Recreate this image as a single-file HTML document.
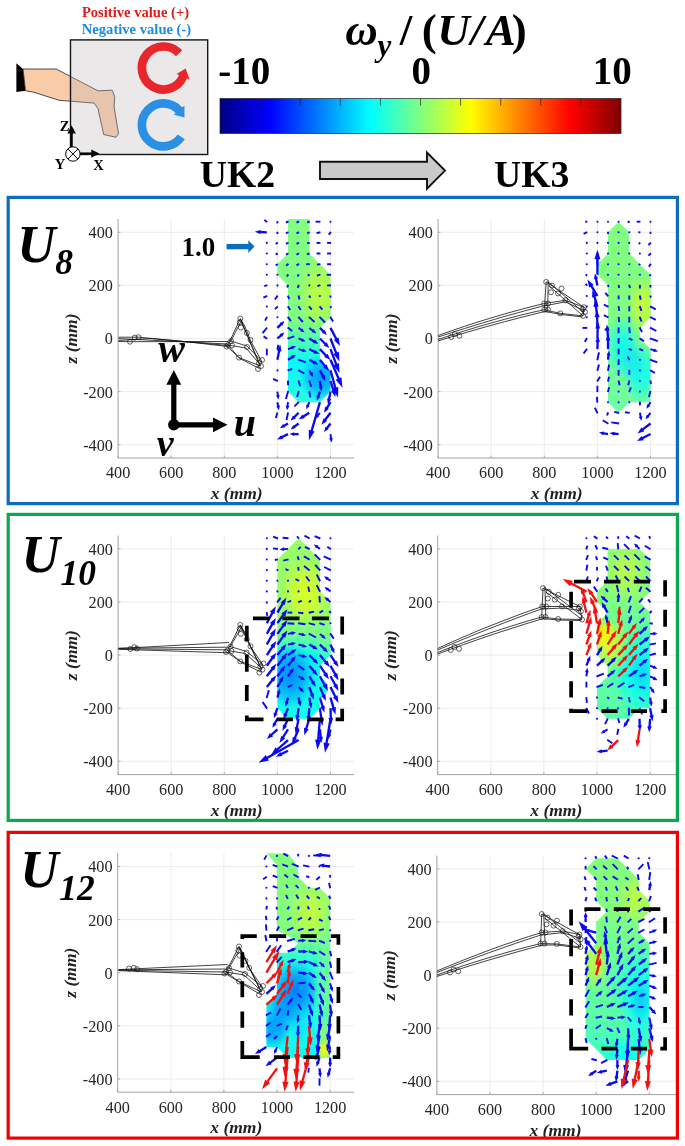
<!DOCTYPE html>
<html lang="en"><head><meta charset="utf-8"><title>Vorticity and velocity fields UK2 to UK3</title><style>html,body{margin:0;padding:0;background:#fff}body{width:685px;height:1146px;overflow:hidden}</style></head><body><svg width="685" height="1146" viewBox="0 0 685 1146" font-family="'Liberation Serif', 'Times New Roman', serif" style="display:block"><rect width="685" height="1146" fill="#fff"/><text x="135.5" y="16.5" font-size="14.6" font-weight="bold" fill="#e01b1b" text-anchor="middle">Positive value (+)</text>
<text x="136.5" y="34" font-size="14.6" font-weight="bold" fill="#1b8be6" text-anchor="middle">Negative value (-)</text>
<polygon points="16.4,63.3 23,69 25.5,90.8 16.4,92.1" fill="#000"/>
<polygon points="23,69 56.2,69 98,90.8 112.2,90.2 114.7,96.5 114.1,107 118.5,133.5 116,137.3 103.7,134.5 98,108.8 94.2,103.1 59.1,100.3 33.5,92.1 25.5,90.8" fill="#f9cba7" stroke="#222" stroke-width="0.8" stroke-linejoin="round"/>
<rect x="70.5" y="39.9" width="137.2" height="114.6" fill="#beb9bc" fill-opacity="0.32" stroke="#161616" stroke-width="1.4"/>
<path d="M179.1,53.3 A21.5,21.5 0 1 0 183.3,76.1" fill="none" stroke="#e8262c" stroke-width="8.7"/>
<polygon points="189.5,79.4 176.6,74.1 185.7,68.4" fill="#e8262c"/>
<path d="M181.2,136.9 A21.5,21.5 0 1 1 179.6,110.8" fill="none" stroke="#2b8fe3" stroke-width="8.7"/>
<polygon points="184.4,105.6 173.8,114.8 184.5,117.6" fill="#2b8fe3"/>
<g stroke="#000" stroke-width="2.3" fill="none"><line x1="71.6" y1="148" x2="71.6" y2="132.5"/><line x1="80" y1="153.6" x2="92.5" y2="153.6"/></g>
<polygon points="71.6,125.6 67.3,133.6 75.9,133.6" fill="#000"/><polygon points="99.3,153.6 91.3,149.4 91.3,157.8" fill="#000"/>
<circle cx="72.9" cy="154" r="7.2" fill="#fff" stroke="#000" stroke-width="1.0"/>
<path d="M67.9,149 L77.9,159 M77.9,149 L67.9,159" stroke="#000" stroke-width="1.0"/>
<text x="64.6" y="131" font-size="14.6" font-weight="bold" text-anchor="middle">Z</text>
<text x="60" y="169" font-size="14.6" font-weight="bold" text-anchor="middle">Y</text>
<text x="98.4" y="169.6" font-size="14.6" font-weight="bold" text-anchor="middle">X</text>
<defs><linearGradient id="jet" x1="0" x2="1" y1="0" y2="0"><stop offset="0" stop-color="#000083"/><stop offset="0.125" stop-color="#0000ff"/><stop offset="0.25" stop-color="#0080ff"/><stop offset="0.375" stop-color="#00ffff"/><stop offset="0.5" stop-color="#80ff80"/><stop offset="0.625" stop-color="#ffff00"/><stop offset="0.75" stop-color="#ff8000"/><stop offset="0.875" stop-color="#ff0000"/><stop offset="1" stop-color="#800000"/></linearGradient></defs>
<rect x="220" y="98.5" width="401" height="35" fill="url(#jet)" stroke="#222" stroke-width="0.7"/>
<line x1="260.1" y1="98.5" x2="260.1" y2="105.5" stroke="#222" stroke-width="0.7"/>
<line x1="300.2" y1="98.5" x2="300.2" y2="105.5" stroke="#222" stroke-width="0.7"/>
<line x1="340.3" y1="98.5" x2="340.3" y2="105.5" stroke="#222" stroke-width="0.7"/>
<line x1="380.4" y1="98.5" x2="380.4" y2="105.5" stroke="#222" stroke-width="0.7"/>
<line x1="420.5" y1="98.5" x2="420.5" y2="105.5" stroke="#222" stroke-width="0.7"/>
<line x1="460.6" y1="98.5" x2="460.6" y2="105.5" stroke="#222" stroke-width="0.7"/>
<line x1="500.7" y1="98.5" x2="500.7" y2="105.5" stroke="#222" stroke-width="0.7"/>
<line x1="540.8" y1="98.5" x2="540.8" y2="105.5" stroke="#222" stroke-width="0.7"/>
<line x1="580.9" y1="98.5" x2="580.9" y2="105.5" stroke="#222" stroke-width="0.7"/>
<text x="218.3" y="84.1" font-size="39" font-weight="bold">-10</text>
<text x="421.3" y="84.1" font-size="39" font-weight="bold" text-anchor="middle">0</text>
<text x="612.3" y="84.1" font-size="39" font-weight="bold" text-anchor="middle">10</text>
<text transform="translate(345.30,44.8) scale(1,1)" font-size="45" font-weight="bold" font-style="italic">ω</text>
<text transform="translate(377.40,56.4) scale(1,1)" font-size="31" font-weight="bold" font-style="italic">y</text>
<text transform="translate(399.65,44.8) scale(1,1)" font-size="45" font-weight="bold">/</text>
<text transform="translate(421.70,44.8) scale(1,1)" font-size="45" font-weight="bold">(</text>
<text transform="translate(437.30,44.8) scale(1,1)" font-size="45" font-weight="bold" font-style="italic">U</text>
<text transform="translate(470.70,44.8) scale(1,1)" font-size="45" font-weight="bold" font-style="italic">/</text>
<text transform="translate(485.65,44.8) scale(1,1)" font-size="45" font-weight="bold" font-style="italic">A</text>
<text transform="translate(511.65,44.8) scale(1,1)" font-size="45" font-weight="bold">)</text>
<text x="199.8" y="186.8" font-size="37.7" font-weight="bold">UK2</text>
<text x="494" y="186.8" font-size="37.7" font-weight="bold">UK3</text>
<polygon points="320,161.8 427,161.8 427,152.6 445,170.6 427,188.6 427,179 320,179" fill="#cbcaca" stroke="#111" stroke-width="1.9" stroke-linejoin="miter"/>
<g id="P1L"><path d="M171.2,219.0V458.0M224.3,219.0V458.0M277.4,219.0V458.0M330.5,219.0V458.0M118.1,232.3H354.0M118.1,285.4H354.0M118.1,338.5H354.0M118.1,391.6H354.0M118.1,444.7H354.0" stroke="#e7e7e7" stroke-width="0.8" fill="none"/><defs><clipPath id="cP1L"><polygon points="288.0,219.0 309.3,219.0 309.3,253.5 330.5,274.8 330.5,317.3 319.9,327.9 319.9,359.7 330.5,370.4 330.5,391.6 319.9,402.2 298.6,402.2 288.0,391.6 288.0,285.4 277.4,274.8 277.4,264.2 288.0,253.5"/></clipPath><linearGradient id="cP1Lb" gradientUnits="userSpaceOnUse" x1="0" x2="0" y1="219.0" y2="458.0"><stop offset="0.000" stop-color="#80ff80"/><stop offset="0.422" stop-color="#80ff80"/><stop offset="0.522" stop-color="#48ffb8"/><stop offset="0.600" stop-color="#08f8f8"/><stop offset="0.778" stop-color="#28ffe0"/></linearGradient><radialGradient id="cP1Lr0"><stop offset="0" stop-color="#ffff00" stop-opacity="0.48"/><stop offset="0.45" stop-color="#ffff00" stop-opacity="0.35"/><stop offset="1" stop-color="#ffff00" stop-opacity="0"/></radialGradient><radialGradient id="cP1Lr1"><stop offset="0" stop-color="#0084ff" stop-opacity="0.8"/><stop offset="0.45" stop-color="#0084ff" stop-opacity="0.58"/><stop offset="1" stop-color="#0084ff" stop-opacity="0"/></radialGradient><radialGradient id="cP1Lr2"><stop offset="0" stop-color="#60ffb0" stop-opacity="0.7"/><stop offset="0.45" stop-color="#60ffb0" stop-opacity="0.50"/><stop offset="1" stop-color="#60ffb0" stop-opacity="0"/></radialGradient></defs><g clip-path="url(#cP1L)"><rect x="250.8" y="219.0" width="106.2" height="239.0" fill="url(#cP1Lb)"/><ellipse cx="319.3" cy="293.4" rx="22.6" ry="37.2" fill="url(#cP1Lr0)"/><ellipse cx="321.2" cy="378.3" rx="21.8" ry="23.4" fill="url(#cP1Lr1)"/><ellipse cx="288.0" cy="402.2" rx="15.9" ry="11.9" fill="url(#cP1Lr2)"/></g><path d="M118.1,219.0V458.0H354.0" stroke="#a2a2a2" stroke-width="1" fill="none"/><path d="M118.1,458.0v-2.4M171.2,458.0v-2.4M224.3,458.0v-2.4M277.4,458.0v-2.4M330.5,458.0v-2.4M118.1,232.3h2.4M118.1,285.4h2.4M118.1,338.5h2.4M118.1,391.6h2.4M118.1,444.7h2.4" stroke="#a2a2a2" stroke-width="0.9" fill="none"/><g font-size="16.2" fill="#262626"><text x="118.1" y="478.3" text-anchor="middle">400</text><text x="171.2" y="478.3" text-anchor="middle">600</text><text x="224.3" y="478.3" text-anchor="middle">800</text><text x="277.4" y="478.3" text-anchor="middle">1000</text><text x="330.5" y="478.3" text-anchor="middle">1200</text><text x="112.9" y="238.2" text-anchor="end">400</text><text x="112.9" y="291.3" text-anchor="end">200</text><text x="112.9" y="344.4" text-anchor="end">0</text><text x="112.9" y="397.5" text-anchor="end">-200</text><text x="112.9" y="450.6" text-anchor="end">-400</text></g><text x="236.7" y="499.2" font-size="17.5" font-weight="bold" font-style="italic" text-anchor="middle" fill="#222">x (mm)</text><text transform="translate(76.6,338.5) rotate(-90)" font-size="17.5" font-weight="bold" font-style="italic" text-anchor="middle" fill="#222">z (mm)</text><path d="M118.5,337.2L138.5,337.2L180.0,341.0L228.0,346.5M118.5,341.5L130.0,341.7L228.0,341.5M118.5,338.6L228.0,344.0M118.5,340.5L150.0,338.5L228.0,345.5M228.0,345.0L240.3,318.6L260.5,366.0L239.0,357.6L228.0,345.0M230.5,342.0L241.1,321.1L259.0,363.5M240.3,318.6L244.8,326.1L250.3,340.1L262.0,362.0M229.0,340.5L247.0,346.0L261.0,360.5M228.0,345.0L246.0,348.0L260.0,364.5M226.5,346.0L240.0,358.6L259.5,368.5" stroke="#111" stroke-width="0.8" fill="none" stroke-linejoin="round"/><g stroke="#111" stroke-width="0.65" fill="none"><circle cx="130.0" cy="341.7" r="2.5"/><circle cx="134.8" cy="337.7" r="2.5"/><circle cx="138.5" cy="337.2" r="2.5"/><circle cx="240.3" cy="318.6" r="2.5"/><circle cx="239.7" cy="322.4" r="2.5"/><circle cx="240.9" cy="327.6" r="2.5"/><circle cx="246.8" cy="333.0" r="2.5"/><circle cx="250.5" cy="340.0" r="2.5"/><circle cx="247.0" cy="347.0" r="2.5"/><circle cx="228.0" cy="345.0" r="2.5"/><circle cx="231.0" cy="341.0" r="2.5"/><circle cx="232.0" cy="345.5" r="2.5"/><circle cx="226.5" cy="346.5" r="2.5"/><circle cx="239.0" cy="357.6" r="2.5"/><circle cx="259.0" cy="363.0" r="2.5"/><circle cx="261.0" cy="366.0" r="2.5"/><circle cx="258.0" cy="369.0" r="2.5"/><circle cx="262.0" cy="360.0" r="2.5"/></g><g fill="none"><path d="M267.2,222.0L264.3,220.0" stroke="#0808f4" stroke-width="1.9"/><path d="M266.8,232.3L259.3,232.0" stroke="#0808f4" stroke-width="2.3"/><path d="M254.8,231.8L260.4,229.9L260.2,234.1z" fill="#0808f4"/><circle cx="266.8" cy="242.9" r="1.05" fill="#0808f4"/><circle cx="266.8" cy="253.5" r="1.05" fill="#0808f4"/><circle cx="266.8" cy="264.2" r="1.05" fill="#0808f4"/><circle cx="266.8" cy="274.8" r="1.05" fill="#0808f4"/><path d="M267.3,285.2L264.3,286.2" stroke="#0808f4" stroke-width="1.9"/><path d="M267.2,295.8L263.4,297.7" stroke="#0808f4" stroke-width="1.9"/><circle cx="266.8" cy="306.6" r="1.05" fill="#0808f4"/><path d="M267.0,316.8L265.1,320.7" stroke="#0808f4" stroke-width="1.9"/><path d="M267.1,327.5L262.6,333.1" stroke="#0808f4" stroke-width="1.9"/><path d="M267.2,338.8L263.6,336.4" stroke="#0808f4" stroke-width="1.9"/><path d="M266.8,348.6L266.8,355.4" stroke="#0808f4" stroke-width="1.9"/><path d="M277.4,221.2L277.4,223.4" stroke="#0808f4" stroke-width="1.9"/><path d="M277.4,231.8L277.4,234.0" stroke="#0808f4" stroke-width="1.9"/><path d="M277.8,242.7L275.7,243.8" stroke="#0808f4" stroke-width="1.9"/><path d="M277.8,253.3L275.7,254.4" stroke="#0808f4" stroke-width="1.9"/><path d="M277.8,263.9L275.7,265.4" stroke="#0808f4" stroke-width="1.9"/><circle cx="277.4" cy="274.8" r="1.05" fill="#0808f4"/><circle cx="277.4" cy="285.4" r="1.05" fill="#0808f4"/><path d="M277.7,295.6L274.8,299.5" stroke="#0808f4" stroke-width="1.9"/><path d="M277.8,306.3L274.9,309.2" stroke="#0808f4" stroke-width="1.9"/><circle cx="277.4" cy="317.3" r="1.05" fill="#0808f4"/><path d="M277.4,327.9L281.7,323.6" stroke="#0808f4" stroke-width="2.3"/><path d="M284.4,320.9L282.4,325.7L279.6,322.9z" fill="#0808f4"/><path d="M277.4,338.5L281.6,334.9" stroke="#0808f4" stroke-width="2.3"/><path d="M284.4,332.5L282.1,337.0L279.6,334.1z" fill="#0808f4"/><path d="M277.3,349.6L278.5,344.8" stroke="#0808f4" stroke-width="1.9"/><path d="M277.4,359.7L279.3,350.1" stroke="#0808f4" stroke-width="2.3"/><path d="M280.4,344.7L281.4,351.6L276.8,350.6z" fill="#0808f4"/><circle cx="277.4" cy="370.4" r="1.05" fill="#0808f4"/><path d="M277.8,381.2L273.1,378.8" stroke="#0808f4" stroke-width="1.9"/><path d="M277.4,391.6L278.0,396.3" stroke="#0808f4" stroke-width="1.95"/><path d="M278.4,399.6L276.0,395.5L279.7,395.1z" fill="#0808f4"/><path d="M277.4,402.2L278.3,406.9" stroke="#0808f4" stroke-width="1.95"/><path d="M278.9,410.2L276.3,406.3L279.9,405.6z" fill="#0808f4"/><path d="M277.5,412.4L275.8,418.1" stroke="#0808f4" stroke-width="1.9"/><path d="M288.5,221.5L285.9,222.5" stroke="#0808f4" stroke-width="1.9"/><path d="M288.5,232.1L285.9,233.3" stroke="#0808f4" stroke-width="1.9"/><path d="M288.5,242.7L285.9,243.8" stroke="#0808f4" stroke-width="1.9"/><path d="M288.4,253.3L285.9,254.8" stroke="#0808f4" stroke-width="1.9"/><path d="M288.4,263.8L286.3,265.8" stroke="#0808f4" stroke-width="1.9"/><path d="M288.3,274.4L286.8,276.5" stroke="#0808f4" stroke-width="1.9"/><path d="M288.2,284.9L287.2,287.5" stroke="#0808f4" stroke-width="1.9"/><path d="M287.8,295.6L289.3,299.0" stroke="#0808f4" stroke-width="1.9"/><path d="M287.8,306.2L290.2,310.1" stroke="#0808f4" stroke-width="1.9"/><path d="M287.7,316.9L291.0,321.1" stroke="#0808f4" stroke-width="1.9"/><path d="M287.6,327.6L292.3,331.1" stroke="#0808f4" stroke-width="1.9"/><path d="M287.5,338.7L294.3,336.4" stroke="#0808f4" stroke-width="1.9"/><path d="M288.0,349.1L292.8,347.3" stroke="#0808f4" stroke-width="1.95"/><path d="M296.0,346.1L292.5,349.4L291.2,345.9z" fill="#0808f4"/><path d="M288.0,359.7L292.9,356.7" stroke="#0808f4" stroke-width="2.3"/><path d="M296.0,354.7L293.0,358.9L291.0,355.6z" fill="#0808f4"/><path d="M287.6,370.5L292.3,368.8" stroke="#0808f4" stroke-width="1.9"/><path d="M288.0,380.5L288.0,385.3" stroke="#0808f4" stroke-width="1.9"/><path d="M288.2,391.1L285.9,398.9" stroke="#0808f4" stroke-width="1.9"/><path d="M288.0,402.2L287.4,406.9" stroke="#0808f4" stroke-width="1.95"/><path d="M287.0,410.2L285.7,405.7L289.4,406.2z" fill="#0808f4"/><path d="M288.1,412.4L286.5,420.1" stroke="#0808f4" stroke-width="1.9"/><path d="M288.0,423.5L283.2,426.2" stroke="#0808f4" stroke-width="2.3"/><path d="M280.0,428.0L283.1,424.0L285.0,427.4z" fill="#0808f4"/><path d="M288.0,434.1L281.1,437.5" stroke="#0808f4" stroke-width="2.3"/><path d="M277.0,439.6L281.1,435.2L283.0,439.0z" fill="#0808f4"/><path d="M299.1,221.5L296.5,222.5" stroke="#0808f4" stroke-width="1.9"/><path d="M299.1,232.1L296.5,233.3" stroke="#0808f4" stroke-width="1.9"/><path d="M299.1,242.7L296.5,243.8" stroke="#0808f4" stroke-width="1.9"/><path d="M299.1,253.3L296.5,254.8" stroke="#0808f4" stroke-width="1.9"/><path d="M299.1,263.9L296.5,265.4" stroke="#0808f4" stroke-width="1.9"/><path d="M298.9,274.4L297.4,276.5" stroke="#0808f4" stroke-width="1.9"/><path d="M298.8,284.9L297.8,287.9" stroke="#0808f4" stroke-width="1.9"/><path d="M298.5,295.5L299.5,299.4" stroke="#0808f4" stroke-width="1.9"/><path d="M298.4,306.2L300.8,310.1" stroke="#0808f4" stroke-width="1.9"/><path d="M298.3,316.9L302.8,322.0" stroke="#0808f4" stroke-width="1.9"/><path d="M298.6,327.9L302.1,330.5" stroke="#0808f4" stroke-width="1.95"/><path d="M304.6,332.4L300.2,331.3L302.4,328.4z" fill="#0808f4"/><path d="M298.6,338.5L302.7,340.2" stroke="#0808f4" stroke-width="1.95"/><path d="M305.6,341.5L301.1,341.5L302.5,338.2z" fill="#0808f4"/><path d="M298.6,349.1L303.4,350.6" stroke="#0808f4" stroke-width="1.95"/><path d="M306.6,351.6L301.9,352.1L303.0,348.5z" fill="#0808f4"/><path d="M298.2,359.6L305.9,362.3" stroke="#0808f4" stroke-width="1.9"/><path d="M298.2,370.1L304.4,373.5" stroke="#0808f4" stroke-width="1.9"/><path d="M298.5,380.5L300.2,386.3" stroke="#0808f4" stroke-width="1.9"/><path d="M298.8,391.1L297.1,396.9" stroke="#0808f4" stroke-width="1.9"/><path d="M299.0,401.9L294.4,406.4" stroke="#0808f4" stroke-width="1.9"/><path d="M298.6,412.8L293.7,417.8" stroke="#0808f4" stroke-width="2.3"/><path d="M290.6,420.8L292.9,415.6L295.8,418.6z" fill="#0808f4"/><path d="M298.6,423.5L293.8,427.1" stroke="#0808f4" stroke-width="2.3"/><path d="M290.6,429.5L293.4,424.9L295.7,428.1z" fill="#0808f4"/><path d="M298.6,434.1L293.2,434.1" stroke="#0808f4" stroke-width="2.3"/><path d="M289.6,434.1L294.2,432.2L294.2,436.0z" fill="#0808f4"/><path d="M309.7,221.5L307.2,222.5" stroke="#0808f4" stroke-width="1.9"/><path d="M309.7,232.1L307.2,233.3" stroke="#0808f4" stroke-width="1.9"/><path d="M309.8,242.8L307.2,243.3" stroke="#0808f4" stroke-width="1.9"/><path d="M309.7,253.4L306.8,254.4" stroke="#0808f4" stroke-width="1.9"/><path d="M309.8,264.2L306.3,264.2" stroke="#0808f4" stroke-width="1.9"/><path d="M309.7,274.6L307.6,275.6" stroke="#0808f4" stroke-width="1.9"/><circle cx="309.3" cy="285.4" r="1.05" fill="#0808f4"/><path d="M309.0,295.6L310.5,297.7" stroke="#0808f4" stroke-width="1.9"/><path d="M308.9,306.3L311.8,309.6" stroke="#0808f4" stroke-width="1.9"/><path d="M308.9,316.9L314.5,322.0" stroke="#0808f4" stroke-width="1.9"/><path d="M309.3,327.9L313.5,331.2" stroke="#0808f4" stroke-width="1.95"/><path d="M316.3,333.4L311.5,332.1L313.8,329.1z" fill="#0808f4"/><path d="M309.3,338.5L314.8,341.9" stroke="#0808f4" stroke-width="2.3"/><path d="M318.3,344.0L312.9,343.1L315.0,339.6z" fill="#0808f4"/><path d="M309.3,349.1L315.5,352.2" stroke="#0808f4" stroke-width="2.3"/><path d="M319.3,354.1L313.6,353.6L315.5,349.9z" fill="#0808f4"/><path d="M309.3,359.7L314.8,362.8" stroke="#0808f4" stroke-width="2.3"/><path d="M318.3,364.7L312.9,364.1L314.9,360.6z" fill="#0808f4"/><path d="M309.3,370.4L311.6,374.1" stroke="#0808f4" stroke-width="1.95"/><path d="M313.3,376.9L309.5,374.2L312.6,372.3z" fill="#0808f4"/><path d="M309.1,380.5L311.4,386.8" stroke="#0808f4" stroke-width="1.9"/><path d="M309.2,391.1L310.3,397.4" stroke="#0808f4" stroke-width="1.9"/><path d="M309.3,402.2L307.5,406.3" stroke="#0808f4" stroke-width="1.95"/><path d="M306.3,409.2L306.2,404.7L309.6,406.1z" fill="#0808f4"/><path d="M309.3,412.8L302.7,416.9" stroke="#0808f4" stroke-width="2.3"/><path d="M298.8,419.3L302.4,414.6L304.6,418.2z" fill="#0808f4"/><path d="M320.4,221.7L315.6,221.7" stroke="#0808f4" stroke-width="1.9"/><path d="M320.4,232.2L316.5,233.1" stroke="#0808f4" stroke-width="1.9"/><path d="M320.4,242.9L316.5,242.9" stroke="#0808f4" stroke-width="1.9"/><path d="M320.4,253.5L316.5,253.5" stroke="#0808f4" stroke-width="1.9"/><path d="M320.4,264.1L316.9,264.6" stroke="#0808f4" stroke-width="1.9"/><path d="M320.4,274.6L316.9,275.6" stroke="#0808f4" stroke-width="1.9"/><path d="M320.4,285.2L317.4,286.2" stroke="#0808f4" stroke-width="1.9"/><circle cx="319.9" cy="296.0" r="1.05" fill="#0808f4"/><path d="M319.6,306.3L322.4,309.6" stroke="#0808f4" stroke-width="1.9"/><path d="M319.5,316.9L325.1,322.5" stroke="#0808f4" stroke-width="1.9"/><path d="M319.9,327.9L324.1,332.1" stroke="#0808f4" stroke-width="2.3"/><path d="M326.9,334.9L322.0,332.8L324.8,330.0z" fill="#0808f4"/><path d="M319.9,338.5L325.9,344.5" stroke="#0808f4" stroke-width="2.3"/><path d="M329.4,348.0L323.6,345.4L326.7,342.2z" fill="#0808f4"/><path d="M319.9,349.1L326.6,356.2" stroke="#0808f4" stroke-width="2.3"/><path d="M330.4,360.1L324.2,357.0L327.6,353.8z" fill="#0808f4"/><path d="M319.9,359.7L325.6,366.7" stroke="#0808f4" stroke-width="2.3"/><path d="M328.9,370.7L323.2,367.4L326.7,364.5z" fill="#0808f4"/><path d="M319.9,370.4L323.3,376.9" stroke="#0808f4" stroke-width="2.3"/><path d="M325.4,380.9L321.0,377.0L324.7,375.1z" fill="#0808f4"/><path d="M319.9,381.0L320.8,387.4" stroke="#0808f4" stroke-width="2.3"/><path d="M321.4,391.5L318.7,386.7L322.7,386.2z" fill="#0808f4"/><path d="M319.9,391.6L318.1,397.0" stroke="#0808f4" stroke-width="2.3"/><path d="M316.9,400.6L316.5,395.5L320.2,396.7z" fill="#0808f4"/><path d="M319.9,402.2L311.4,431.6" stroke="#0808f4" stroke-width="2.3"/><path d="M308.9,440.2L308.7,429.8L314.6,431.5z" fill="#0808f4"/><path d="M319.9,412.8L317.0,416.3" stroke="#0808f4" stroke-width="1.95"/><path d="M314.9,418.8L316.2,414.4L319.0,416.8z" fill="#0808f4"/><circle cx="330.5" cy="221.7" r="1.05" fill="#0808f4"/><path d="M330.8,231.9L328.8,234.8" stroke="#0808f4" stroke-width="1.9"/><path d="M331.0,242.9L327.1,242.9" stroke="#0808f4" stroke-width="1.9"/><path d="M331.0,253.5L327.1,253.5" stroke="#0808f4" stroke-width="1.9"/><path d="M331.0,264.2L327.1,264.2" stroke="#0808f4" stroke-width="1.9"/><path d="M331.0,274.8L326.7,274.8" stroke="#0808f4" stroke-width="1.9"/><path d="M331.0,285.4L327.1,285.4" stroke="#0808f4" stroke-width="1.9"/><path d="M330.5,295.5L330.5,297.7" stroke="#0808f4" stroke-width="1.9"/><path d="M330.2,306.2L331.4,307.9" stroke="#0808f4" stroke-width="1.9"/><path d="M330.2,316.8L333.1,321.5" stroke="#0808f4" stroke-width="1.9"/><path d="M330.5,327.9L336.7,339.7" stroke="#0808f4" stroke-width="2.3"/><path d="M340.0,345.9L333.9,340.0L338.6,337.6z" fill="#0808f4"/><path d="M330.5,338.5L336.5,353.8" stroke="#0808f4" stroke-width="2.3"/><path d="M339.5,361.5L333.4,353.9L338.9,351.8z" fill="#0808f4"/><path d="M330.5,349.1L336.5,365.1" stroke="#0808f4" stroke-width="2.3"/><path d="M339.5,373.1L333.3,365.2L339.0,363.1z" fill="#0808f4"/><path d="M330.5,359.7L339.0,379.5" stroke="#0808f4" stroke-width="2.3"/><path d="M342.5,387.7L335.7,379.8L341.4,377.3z" fill="#0808f4"/><path d="M330.5,370.4L335.6,388.7" stroke="#0808f4" stroke-width="2.3"/><path d="M338.0,397.4L332.3,388.6L338.3,386.9z" fill="#0808f4"/><path d="M330.5,381.0L333.7,391.3" stroke="#0808f4" stroke-width="2.3"/><path d="M335.5,397.0L331.1,391.1L335.7,389.6z" fill="#0808f4"/><path d="M330.5,391.6L328.9,399.8" stroke="#0808f4" stroke-width="2.3"/><path d="M328.0,404.6L327.0,398.4L331.3,399.2z" fill="#0808f4"/><path d="M330.5,402.2L326.4,408.8" stroke="#0808f4" stroke-width="2.3"/><path d="M324.0,412.7L325.1,406.8L328.8,409.1z" fill="#0808f4"/><path d="M330.5,412.8L324.7,420.5" stroke="#0808f4" stroke-width="2.3"/><path d="M321.5,424.8L323.5,418.3L327.2,421.1z" fill="#0808f4"/><path d="M330.5,423.5L326.5,428.7" stroke="#0808f4" stroke-width="2.3"/><path d="M324.0,432.0L325.5,426.7L328.7,429.1z" fill="#0808f4"/><path d="M330.5,434.1L331.1,439.1" stroke="#0808f4" stroke-width="1.95"/><path d="M331.5,442.6L329.1,438.4L332.8,437.9z" fill="#0808f4"/></g></g>
<g id="P1R"><path d="M491.2,219.0V458.0M544.3,219.0V458.0M597.4,219.0V458.0M650.5,219.0V458.0M438.1,232.3H676.0M438.1,285.4H676.0M438.1,338.5H676.0M438.1,391.6H676.0M438.1,444.7H676.0" stroke="#e7e7e7" stroke-width="0.8" fill="none"/><defs><clipPath id="cP1R"><polygon points="618.6,221.7 629.3,232.3 629.3,253.5 650.5,274.8 650.5,317.3 639.9,327.9 639.9,338.5 650.5,349.1 650.5,402.2 629.3,402.2 618.6,412.8 608.0,402.2 608.0,285.4 597.4,274.8 597.4,264.2 608.0,253.5 608.0,232.3"/></clipPath><linearGradient id="cP1Rb" gradientUnits="userSpaceOnUse" x1="0" x2="0" y1="219.0" y2="458.0"><stop offset="0.000" stop-color="#80ff80"/><stop offset="0.367" stop-color="#80ff80"/><stop offset="0.778" stop-color="#70ffa0"/></linearGradient><radialGradient id="cP1Rr0"><stop offset="0" stop-color="#ffff00" stop-opacity="0.55"/><stop offset="0.45" stop-color="#ffff00" stop-opacity="0.40"/><stop offset="1" stop-color="#ffff00" stop-opacity="0"/></radialGradient><radialGradient id="cP1Rr1"><stop offset="0" stop-color="#00ffff" stop-opacity="0.85"/><stop offset="0.45" stop-color="#00ffff" stop-opacity="0.61"/><stop offset="1" stop-color="#00ffff" stop-opacity="0"/></radialGradient><radialGradient id="cP1Rr2"><stop offset="0" stop-color="#00ffff" stop-opacity="0.85"/><stop offset="0.45" stop-color="#00ffff" stop-opacity="0.61"/><stop offset="1" stop-color="#00ffff" stop-opacity="0"/></radialGradient><radialGradient id="cP1Rr3"><stop offset="0" stop-color="#00d8ff" stop-opacity="0.5"/><stop offset="0.45" stop-color="#00d8ff" stop-opacity="0.36"/><stop offset="1" stop-color="#00d8ff" stop-opacity="0"/></radialGradient></defs><g clip-path="url(#cP1R)"><rect x="570.9" y="219.0" width="106.2" height="239.0" fill="url(#cP1Rb)"/><ellipse cx="643.1" cy="305.3" rx="16.5" ry="30.5" fill="url(#cP1Rr0)"/><ellipse cx="622.6" cy="346.5" rx="16.5" ry="31.9" fill="url(#cP1Rr1)"/><ellipse cx="641.2" cy="373.0" rx="18.6" ry="30.5" fill="url(#cP1Rr2)"/><ellipse cx="630.6" cy="359.7" rx="15.9" ry="23.9" fill="url(#cP1Rr3)"/></g><path d="M438.1,219.0V458.0H676.0" stroke="#a2a2a2" stroke-width="1" fill="none"/><path d="M438.1,458.0v-2.4M491.2,458.0v-2.4M544.3,458.0v-2.4M597.4,458.0v-2.4M650.5,458.0v-2.4M438.1,232.3h2.4M438.1,285.4h2.4M438.1,338.5h2.4M438.1,391.6h2.4M438.1,444.7h2.4" stroke="#a2a2a2" stroke-width="0.9" fill="none"/><g font-size="16.2" fill="#262626"><text x="438.1" y="478.3" text-anchor="middle">400</text><text x="491.2" y="478.3" text-anchor="middle">600</text><text x="544.3" y="478.3" text-anchor="middle">800</text><text x="597.4" y="478.3" text-anchor="middle">1000</text><text x="650.5" y="478.3" text-anchor="middle">1200</text><text x="432.9" y="238.2" text-anchor="end">400</text><text x="432.9" y="291.3" text-anchor="end">200</text><text x="432.9" y="344.4" text-anchor="end">0</text><text x="432.9" y="397.5" text-anchor="end">-200</text><text x="432.9" y="450.6" text-anchor="end">-400</text></g><text x="556.7" y="499.2" font-size="17.5" font-weight="bold" font-style="italic" text-anchor="middle" fill="#222">x (mm)</text><text transform="translate(396.6,338.5) rotate(-90)" font-size="17.5" font-weight="bold" font-style="italic" text-anchor="middle" fill="#222">z (mm)</text><path d="M438.1,335.5L451.4,330.8L464.6,326.3L477.9,322.0L491.2,317.9L504.4,314.0L517.7,310.3L530.9,306.8L544.2,303.5M438.1,337.0L451.4,332.7L464.6,328.5L477.9,324.4L491.2,320.4L504.4,316.5L517.7,312.8L530.9,309.2L544.2,305.7M438.1,339.5L451.4,335.1L464.6,330.9L477.9,326.8L491.2,323.0L504.4,319.4L517.7,315.9L530.9,312.7L544.2,309.7M438.1,341.0L451.4,336.9L464.8,332.9L478.1,329.0L491.4,325.3L504.7,321.7L518.1,318.2L531.4,314.8L544.7,311.5M546.2,281.9L544.2,310.7M548.2,282.4L547.7,310.7M546.2,281.9L583.9,307.2M547.2,280.9L584.0,312.9M549.2,285.9L583.0,315.9M544.2,303.5L565.3,300.3L583.9,307.2M544.2,306.0L565.3,301.8L584.9,311.2M544.2,309.7L560.3,313.4L583.0,315.9M544.2,311.2L560.3,314.4L582.0,316.9M583.9,307.2L583.0,315.9" stroke="#111" stroke-width="0.8" fill="none" stroke-linejoin="round"/><g stroke="#111" stroke-width="0.65" fill="none"><circle cx="451.1" cy="337.0" r="2.5"/><circle cx="454.9" cy="334.0" r="2.5"/><circle cx="459.4" cy="335.8" r="2.5"/><circle cx="546.2" cy="281.9" r="2.5"/><circle cx="552.0" cy="285.6" r="2.5"/><circle cx="561.5" cy="288.6" r="2.5"/><circle cx="551.0" cy="292.3" r="2.5"/><circle cx="558.0" cy="293.5" r="2.5"/><circle cx="544.2" cy="303.5" r="2.5"/><circle cx="548.0" cy="303.5" r="2.5"/><circle cx="544.2" cy="309.7" r="2.5"/><circle cx="548.0" cy="309.7" r="2.5"/><circle cx="560.3" cy="313.4" r="2.5"/><circle cx="565.3" cy="300.3" r="2.5"/><circle cx="583.9" cy="307.2" r="2.5"/><circle cx="585.0" cy="312.0" r="2.5"/><circle cx="583.0" cy="315.9" r="2.5"/><circle cx="582.9" cy="309.2" r="2.5"/></g><g fill="none"><path d="M587.3,221.7L585.2,221.7" stroke="#0808f4" stroke-width="1.9"/><path d="M587.2,232.1L583.6,233.9" stroke="#0808f4" stroke-width="1.9"/><circle cx="586.8" cy="242.9" r="1.05" fill="#0808f4"/><circle cx="586.8" cy="253.5" r="1.05" fill="#0808f4"/><circle cx="586.8" cy="264.2" r="1.05" fill="#0808f4"/><path d="M587.1,274.4L585.7,275.9" stroke="#0808f4" stroke-width="1.9"/><path d="M587.1,285.8L585.7,283.8" stroke="#0808f4" stroke-width="1.9"/><circle cx="586.8" cy="296.0" r="1.05" fill="#0808f4"/><circle cx="586.8" cy="306.6" r="1.05" fill="#0808f4"/><circle cx="586.8" cy="317.3" r="1.05" fill="#0808f4"/><path d="M587.3,327.9L582.5,327.9" stroke="#0808f4" stroke-width="1.9"/><path d="M587.1,338.1L584.7,341.7" stroke="#0808f4" stroke-width="1.9"/><path d="M587.1,348.7L583.6,353.4" stroke="#0808f4" stroke-width="1.9"/><circle cx="597.4" cy="221.7" r="1.05" fill="#0808f4"/><circle cx="597.4" cy="232.3" r="1.05" fill="#0808f4"/><circle cx="597.4" cy="242.9" r="1.05" fill="#0808f4"/><circle cx="597.4" cy="253.5" r="1.05" fill="#0808f4"/><path d="M597.4,264.7L597.3,259.5" stroke="#0808f4" stroke-width="1.9"/><path d="M597.4,274.8L597.4,258.2" stroke="#0808f4" stroke-width="2.3"/><path d="M597.4,249.8L600.4,259.2L594.4,259.2z" fill="#0808f4"/><path d="M597.4,285.4L595.8,277.9" stroke="#0808f4" stroke-width="2.3"/><path d="M594.9,273.4L598.1,278.4L594.0,279.3z" fill="#0808f4"/><path d="M597.4,296.0L590.9,285.2" stroke="#0808f4" stroke-width="2.3"/><path d="M587.4,279.5L593.6,284.8L589.2,287.4z" fill="#0808f4"/><path d="M597.4,306.6L594.2,295.8" stroke="#0808f4" stroke-width="2.3"/><path d="M592.4,289.9L596.8,296.1L592.1,297.5z" fill="#0808f4"/><path d="M597.4,317.3L595.8,305.6" stroke="#0808f4" stroke-width="2.3"/><path d="M594.9,299.3L598.4,306.2L593.4,306.9z" fill="#0808f4"/><path d="M597.4,327.9L597.1,316.2" stroke="#0808f4" stroke-width="2.3"/><path d="M596.9,309.9L599.6,317.1L594.6,317.2z" fill="#0808f4"/><path d="M597.4,338.5L597.7,327.5" stroke="#0808f4" stroke-width="2.3"/><path d="M597.9,321.5L600.1,328.6L595.3,328.4z" fill="#0808f4"/><path d="M597.4,349.1L597.7,340.9" stroke="#0808f4" stroke-width="2.3"/><path d="M597.9,336.1L599.9,342.0L595.5,341.8z" fill="#0808f4"/><path d="M597.3,360.2L599.0,352.4" stroke="#0808f4" stroke-width="1.9"/><path d="M597.3,370.8L599.0,364.6" stroke="#0808f4" stroke-width="1.9"/><path d="M597.1,381.4L600.1,376.7" stroke="#0808f4" stroke-width="1.9"/><path d="M597.4,392.1L597.4,385.8" stroke="#0808f4" stroke-width="1.9"/><path d="M597.4,402.7L596.9,396.9" stroke="#0808f4" stroke-width="1.9"/><path d="M597.6,413.3L594.8,407.6" stroke="#0808f4" stroke-width="1.9"/><circle cx="608.0" cy="221.7" r="1.05" fill="#0808f4"/><path d="M608.0,231.8L608.0,233.9" stroke="#0808f4" stroke-width="1.9"/><circle cx="608.0" cy="242.9" r="1.05" fill="#0808f4"/><circle cx="608.0" cy="253.5" r="1.05" fill="#0808f4"/><circle cx="608.0" cy="264.2" r="1.05" fill="#0808f4"/><circle cx="608.0" cy="274.8" r="1.05" fill="#0808f4"/><path d="M607.9,284.9L608.6,287.0" stroke="#0808f4" stroke-width="1.9"/><path d="M608.3,296.4L605.3,292.8" stroke="#0808f4" stroke-width="1.9"/><path d="M608.5,306.9L603.8,304.5" stroke="#0808f4" stroke-width="1.9"/><path d="M608.5,317.5L603.8,315.1" stroke="#0808f4" stroke-width="1.9"/><path d="M608.4,327.6L604.8,330.0" stroke="#0808f4" stroke-width="1.9"/><path d="M608.0,338.5L607.4,329.6" stroke="#0808f4" stroke-width="2.3"/><path d="M607.0,324.5L609.7,330.4L605.2,330.8z" fill="#0808f4"/><path d="M608.0,349.1L608.0,339.5" stroke="#0808f4" stroke-width="2.3"/><path d="M608.0,334.1L610.3,340.5L605.7,340.5z" fill="#0808f4"/><path d="M608.0,359.7L608.6,354.3" stroke="#0808f4" stroke-width="2.3"/><path d="M609.0,350.7L610.4,355.5L606.6,355.1z" fill="#0808f4"/><path d="M607.9,370.9L609.1,364.6" stroke="#0808f4" stroke-width="1.9"/><path d="M607.9,381.5L609.1,376.7" stroke="#0808f4" stroke-width="1.9"/><path d="M607.9,392.1L609.1,387.3" stroke="#0808f4" stroke-width="1.9"/><circle cx="608.0" cy="402.2" r="1.05" fill="#0808f4"/><path d="M608.2,412.4L607.0,415.5" stroke="#0808f4" stroke-width="1.9"/><path d="M608.4,423.7L602.8,420.3" stroke="#0808f4" stroke-width="1.9"/><path d="M608.0,434.1L602.6,433.2" stroke="#0808f4" stroke-width="2.3"/><path d="M599.0,432.6L603.9,431.4L603.3,435.2z" fill="#0808f4"/><circle cx="618.6" cy="221.7" r="1.05" fill="#0808f4"/><circle cx="618.6" cy="232.3" r="1.05" fill="#0808f4"/><circle cx="618.6" cy="242.9" r="1.05" fill="#0808f4"/><circle cx="618.6" cy="253.5" r="1.05" fill="#0808f4"/><circle cx="618.6" cy="264.2" r="1.05" fill="#0808f4"/><circle cx="618.6" cy="274.8" r="1.05" fill="#0808f4"/><path d="M618.6,284.9L619.0,288.0" stroke="#0808f4" stroke-width="1.9"/><path d="M618.6,295.5L618.6,299.2" stroke="#0808f4" stroke-width="1.9"/><path d="M618.6,306.1L619.2,310.9" stroke="#0808f4" stroke-width="1.9"/><path d="M618.6,316.8L619.2,322.1" stroke="#0808f4" stroke-width="1.9"/><path d="M618.6,327.4L618.6,333.2" stroke="#0808f4" stroke-width="1.9"/><path d="M618.6,338.0L618.6,343.8" stroke="#0808f4" stroke-width="1.9"/><path d="M618.6,348.6L618.6,354.4" stroke="#0808f4" stroke-width="1.9"/><path d="M618.6,359.2L618.6,365.0" stroke="#0808f4" stroke-width="1.9"/><path d="M618.6,369.9L618.6,375.7" stroke="#0808f4" stroke-width="1.9"/><path d="M618.5,380.5L619.7,385.3" stroke="#0808f4" stroke-width="1.9"/><circle cx="618.6" cy="391.6" r="1.05" fill="#0808f4"/><circle cx="618.6" cy="402.2" r="1.05" fill="#0808f4"/><path d="M619.1,413.0L614.3,411.8" stroke="#0808f4" stroke-width="1.9"/><path d="M619.1,423.5L611.3,422.4" stroke="#0808f4" stroke-width="1.9"/><path d="M618.6,434.1L613.2,433.5" stroke="#0808f4" stroke-width="2.3"/><path d="M609.6,433.1L614.4,431.7L614.0,435.5z" fill="#0808f4"/><path d="M629.7,221.5L627.7,222.2" stroke="#0808f4" stroke-width="1.9"/><circle cx="629.3" cy="232.3" r="1.05" fill="#0808f4"/><circle cx="629.3" cy="242.9" r="1.05" fill="#0808f4"/><circle cx="629.3" cy="253.5" r="1.05" fill="#0808f4"/><circle cx="629.3" cy="264.2" r="1.05" fill="#0808f4"/><circle cx="629.3" cy="274.8" r="1.05" fill="#0808f4"/><path d="M629.1,284.9L630.1,288.0" stroke="#0808f4" stroke-width="1.9"/><path d="M629.3,295.5L629.3,299.7" stroke="#0808f4" stroke-width="1.9"/><path d="M629.3,306.1L629.3,311.4" stroke="#0808f4" stroke-width="1.9"/><path d="M629.3,316.8L629.3,322.6" stroke="#0808f4" stroke-width="1.9"/><path d="M629.2,327.4L629.8,333.2" stroke="#0808f4" stroke-width="1.9"/><path d="M628.8,338.3L632.4,340.1" stroke="#0808f4" stroke-width="1.9"/><path d="M628.8,348.9L631.9,350.2" stroke="#0808f4" stroke-width="1.9"/><path d="M629.5,360.2L627.7,356.6" stroke="#0808f4" stroke-width="1.9"/><path d="M629.3,369.9L629.3,374.7" stroke="#0808f4" stroke-width="1.9"/><path d="M629.4,380.5L628.2,385.3" stroke="#0808f4" stroke-width="1.9"/><path d="M629.1,392.1L630.9,387.3" stroke="#0808f4" stroke-width="1.9"/><circle cx="629.3" cy="402.2" r="1.05" fill="#0808f4"/><path d="M629.8,412.9L625.0,412.3" stroke="#0808f4" stroke-width="1.9"/><path d="M640.4,221.7L636.7,221.7" stroke="#0808f4" stroke-width="1.9"/><path d="M640.4,232.3L638.3,232.3" stroke="#0808f4" stroke-width="1.9"/><path d="M640.2,242.6L638.8,244.0" stroke="#0808f4" stroke-width="1.9"/><circle cx="639.9" cy="253.5" r="1.05" fill="#0808f4"/><path d="M640.2,263.8L638.8,265.2" stroke="#0808f4" stroke-width="1.9"/><circle cx="639.9" cy="274.8" r="1.05" fill="#0808f4"/><path d="M639.9,284.9L639.9,288.6" stroke="#0808f4" stroke-width="1.9"/><path d="M639.8,295.5L640.7,299.7" stroke="#0808f4" stroke-width="1.9"/><path d="M639.7,306.2L641.5,310.9" stroke="#0808f4" stroke-width="1.9"/><path d="M639.7,316.8L641.5,321.5" stroke="#0808f4" stroke-width="1.9"/><path d="M639.7,327.4L642.0,332.1" stroke="#0808f4" stroke-width="1.9"/><path d="M639.5,338.2L644.1,341.2" stroke="#0808f4" stroke-width="1.9"/><path d="M639.4,348.9L643.1,350.7" stroke="#0808f4" stroke-width="1.9"/><circle cx="639.9" cy="359.7" r="1.05" fill="#0808f4"/><circle cx="639.9" cy="370.4" r="1.05" fill="#0808f4"/><circle cx="639.9" cy="381.0" r="1.05" fill="#0808f4"/><circle cx="639.9" cy="391.6" r="1.05" fill="#0808f4"/><path d="M639.9,401.7L639.9,405.4" stroke="#0808f4" stroke-width="1.9"/><path d="M639.9,412.8L640.8,417.6" stroke="#0808f4" stroke-width="1.95"/><path d="M641.4,420.8L638.8,416.9L642.4,416.2z" fill="#0808f4"/><circle cx="650.5" cy="221.7" r="1.05" fill="#0808f4"/><path d="M650.5,231.8L650.5,233.9" stroke="#0808f4" stroke-width="1.9"/><path d="M650.9,242.6L648.4,245.0" stroke="#0808f4" stroke-width="1.9"/><path d="M650.9,253.2L648.4,255.6" stroke="#0808f4" stroke-width="1.9"/><path d="M650.8,263.7L648.9,266.8" stroke="#0808f4" stroke-width="1.9"/><path d="M650.9,274.4L649.4,275.9" stroke="#0808f4" stroke-width="1.9"/><path d="M650.5,284.9L650.5,287.5" stroke="#0808f4" stroke-width="1.9"/><path d="M650.3,295.5L651.0,297.6" stroke="#0808f4" stroke-width="1.9"/><path d="M650.1,306.4L655.8,309.3" stroke="#0808f4" stroke-width="1.9"/><path d="M650.1,317.0L655.8,319.9" stroke="#0808f4" stroke-width="1.9"/><path d="M650.1,327.6L656.3,331.0" stroke="#0808f4" stroke-width="1.9"/><path d="M650.0,338.3L657.8,341.1" stroke="#0808f4" stroke-width="1.9"/><path d="M650.5,349.1L654.9,350.6" stroke="#0808f4" stroke-width="1.95"/><path d="M658.0,351.6L653.4,352.0L654.5,348.5z" fill="#0808f4"/><path d="M650.0,359.6L657.3,362.3" stroke="#0808f4" stroke-width="1.9"/><path d="M650.1,370.1L654.8,373.0" stroke="#0808f4" stroke-width="1.9"/><path d="M650.4,380.5L651.0,384.1" stroke="#0808f4" stroke-width="1.9"/><path d="M650.6,391.1L648.9,396.9" stroke="#0808f4" stroke-width="1.9"/><path d="M650.5,402.2L648.2,406.0" stroke="#0808f4" stroke-width="1.95"/><path d="M646.5,408.7L647.1,404.2L650.2,406.1z" fill="#0808f4"/><path d="M650.5,412.8L647.5,416.7" stroke="#0808f4" stroke-width="1.95"/><path d="M645.5,419.3L646.7,414.8L649.6,417.0z" fill="#0808f4"/><path d="M650.5,423.5L642.1,429.9" stroke="#0808f4" stroke-width="2.3"/><path d="M637.5,433.5L641.4,427.4L644.4,431.2z" fill="#0808f4"/><path d="M650.5,434.1L641.8,438.6" stroke="#0808f4" stroke-width="2.3"/><path d="M637.0,441.1L641.7,436.0L643.8,440.2z" fill="#0808f4"/></g></g>
<g id="P2L"><path d="M171.2,535.6V774.6M224.3,535.6V774.6M277.4,535.6V774.6M330.5,535.6V774.6M118.1,548.9H354.0M118.1,602.0H354.0M118.1,655.1H354.0M118.1,708.2H354.0M118.1,761.3H354.0" stroke="#e7e7e7" stroke-width="0.8" fill="none"/><defs><clipPath id="cP2L"><polygon points="298.6,538.3 319.9,559.5 319.9,591.4 330.5,602.0 330.5,655.1 319.9,665.7 319.9,676.3 327.8,684.3 327.8,690.9 319.9,698.9 319.9,708.2 309.3,718.8 288.0,718.8 277.4,708.2 277.4,559.5"/></clipPath><linearGradient id="cP2Lb" gradientUnits="userSpaceOnUse" x1="0" x2="0" y1="535.6" y2="774.6"><stop offset="0.000" stop-color="#98ff68"/><stop offset="0.300" stop-color="#98ff68"/><stop offset="0.400" stop-color="#80ff80"/><stop offset="0.461" stop-color="#40ffc0"/><stop offset="0.506" stop-color="#04f4fc"/><stop offset="0.778" stop-color="#18ffe8"/></linearGradient><radialGradient id="cP2Lr0"><stop offset="0" stop-color="#ffff00" stop-opacity="0.66"/><stop offset="0.45" stop-color="#ffff00" stop-opacity="0.48"/><stop offset="1" stop-color="#ffff00" stop-opacity="0"/></radialGradient><radialGradient id="cP2Lr1"><stop offset="0" stop-color="#80ff80" stop-opacity="0.7"/><stop offset="0.45" stop-color="#80ff80" stop-opacity="0.50"/><stop offset="1" stop-color="#80ff80" stop-opacity="0"/></radialGradient><radialGradient id="cP2Lr2"><stop offset="0" stop-color="#0084ff" stop-opacity="0.92"/><stop offset="0.45" stop-color="#0084ff" stop-opacity="0.66"/><stop offset="1" stop-color="#0084ff" stop-opacity="0"/></radialGradient><radialGradient id="cP2Lr3"><stop offset="0" stop-color="#30ffd0" stop-opacity="0.5"/><stop offset="0.45" stop-color="#30ffd0" stop-opacity="0.36"/><stop offset="1" stop-color="#30ffd0" stop-opacity="0"/></radialGradient></defs><g clip-path="url(#cP2L)"><rect x="250.8" y="535.6" width="106.2" height="239.0" fill="url(#cP2Lb)"/><ellipse cx="305.3" cy="592.7" rx="25.2" ry="35.8" fill="url(#cP2Lr0)"/><ellipse cx="326.5" cy="639.2" rx="13.3" ry="29.2" fill="url(#cP2Lr1)"/><ellipse cx="290.7" cy="675.8" rx="24.4" ry="33.2" fill="url(#cP2Lr2)"/><ellipse cx="323.9" cy="671.0" rx="10.6" ry="31.9" fill="url(#cP2Lr3)"/></g><path d="M118.1,535.6V774.6H354.0" stroke="#a2a2a2" stroke-width="1" fill="none"/><path d="M118.1,774.6v-2.4M171.2,774.6v-2.4M224.3,774.6v-2.4M277.4,774.6v-2.4M330.5,774.6v-2.4M118.1,548.9h2.4M118.1,602.0h2.4M118.1,655.1h2.4M118.1,708.2h2.4M118.1,761.3h2.4" stroke="#a2a2a2" stroke-width="0.9" fill="none"/><g font-size="16.2" fill="#262626"><text x="118.1" y="794.9" text-anchor="middle">400</text><text x="171.2" y="794.9" text-anchor="middle">600</text><text x="224.3" y="794.9" text-anchor="middle">800</text><text x="277.4" y="794.9" text-anchor="middle">1000</text><text x="330.5" y="794.9" text-anchor="middle">1200</text><text x="112.9" y="554.8" text-anchor="end">400</text><text x="112.9" y="607.9" text-anchor="end">200</text><text x="112.9" y="661.0" text-anchor="end">0</text><text x="112.9" y="714.1" text-anchor="end">-200</text><text x="112.9" y="767.2" text-anchor="end">-400</text></g><text x="236.7" y="815.8" font-size="17.5" font-weight="bold" font-style="italic" text-anchor="middle" fill="#222">x (mm)</text><text transform="translate(76.6,655.1) rotate(-90)" font-size="17.5" font-weight="bold" font-style="italic" text-anchor="middle" fill="#222">z (mm)</text><path d="M118.5,648.5L229.0,642.5M118.5,648.2L228.0,647.2M118.5,648.8L227.0,649.8M118.5,649.3L226.7,652.7M227.5,650.5L240.3,624.9L261.9,669.6L240.3,661.4L227.5,650.5M230.0,647.5L241.1,627.4L260.4,667.1M240.3,624.9L244.8,632.4L250.3,646.4L263.4,665.6M228.5,646.0L246.5,651.5L262.4,664.1M227.5,650.5L245.5,653.5L261.4,668.1M226.0,651.5L241.3,662.4L260.9,672.1" stroke="#111" stroke-width="0.8" fill="none" stroke-linejoin="round"/><g stroke="#111" stroke-width="0.65" fill="none"><circle cx="130.4" cy="649.0" r="2.5"/><circle cx="134.3" cy="647.2" r="2.5"/><circle cx="136.8" cy="648.5" r="2.5"/><circle cx="240.3" cy="624.9" r="2.5"/><circle cx="239.7" cy="628.7" r="2.5"/><circle cx="240.9" cy="633.9" r="2.5"/><circle cx="246.8" cy="639.3" r="2.5"/><circle cx="250.5" cy="646.3" r="2.5"/><circle cx="246.5" cy="652.5" r="2.5"/><circle cx="227.5" cy="650.5" r="2.5"/><circle cx="230.5" cy="646.5" r="2.5"/><circle cx="231.5" cy="651.0" r="2.5"/><circle cx="226.0" cy="652.0" r="2.5"/><circle cx="240.3" cy="661.4" r="2.5"/><circle cx="260.4" cy="666.6" r="2.5"/><circle cx="262.4" cy="669.6" r="2.5"/><circle cx="259.4" cy="672.6" r="2.5"/><circle cx="263.4" cy="663.6" r="2.5"/></g><g fill="none"><circle cx="266.8" cy="538.3" r="1.05" fill="#0808f4"/><circle cx="266.8" cy="548.9" r="1.05" fill="#0808f4"/><circle cx="266.8" cy="559.5" r="1.05" fill="#0808f4"/><circle cx="266.8" cy="570.1" r="1.05" fill="#0808f4"/><circle cx="266.8" cy="580.8" r="1.05" fill="#0808f4"/><circle cx="266.8" cy="591.4" r="1.05" fill="#0808f4"/><path d="M266.8,601.5L266.8,603.6" stroke="#0808f4" stroke-width="1.9"/><path d="M266.7,612.1L267.3,615.8" stroke="#0808f4" stroke-width="1.9"/><path d="M266.8,623.2L272.7,612.1" stroke="#0808f4" stroke-width="2.3"/><path d="M275.8,606.2L274.5,614.2L269.9,611.8z" fill="#0808f4"/><path d="M266.8,633.9L272.6,623.4" stroke="#0808f4" stroke-width="2.3"/><path d="M275.8,617.9L274.4,625.6L269.9,623.1z" fill="#0808f4"/><path d="M266.8,644.5L272.6,634.1" stroke="#0808f4" stroke-width="2.3"/><path d="M275.8,628.5L274.4,636.2L269.9,633.7z" fill="#0808f4"/><path d="M266.8,655.1L272.9,646.0" stroke="#0808f4" stroke-width="2.3"/><path d="M276.3,641.1L274.4,648.2L270.3,645.5z" fill="#0808f4"/><path d="M266.8,665.7L272.9,657.3" stroke="#0808f4" stroke-width="2.3"/><path d="M276.3,652.7L274.2,659.6L270.4,656.7z" fill="#0808f4"/><path d="M266.8,676.3L272.9,668.3" stroke="#0808f4" stroke-width="2.3"/><path d="M276.3,663.8L274.2,670.5L270.4,667.7z" fill="#0808f4"/><path d="M266.8,687.0L272.9,679.6" stroke="#0808f4" stroke-width="2.3"/><path d="M276.3,675.5L274.0,681.8L270.4,678.9z" fill="#0808f4"/><path d="M266.6,698.1L268.9,690.3" stroke="#0808f4" stroke-width="1.9"/><path d="M267.1,708.6L262.6,702.0" stroke="#0808f4" stroke-width="1.9"/><path d="M277.9,538.5L273.1,536.7" stroke="#0808f4" stroke-width="1.9"/><path d="M277.9,549.0L273.1,548.4" stroke="#0808f4" stroke-width="1.9"/><path d="M277.9,559.4L274.8,560.0" stroke="#0808f4" stroke-width="1.9"/><circle cx="277.4" cy="570.1" r="1.05" fill="#0808f4"/><circle cx="277.4" cy="580.8" r="1.05" fill="#0808f4"/><circle cx="277.4" cy="591.4" r="1.05" fill="#0808f4"/><path d="M277.1,602.4L280.6,597.8" stroke="#0808f4" stroke-width="1.9"/><path d="M277.4,612.6L283.2,602.9" stroke="#0808f4" stroke-width="2.3"/><path d="M286.4,597.6L284.8,605.0L280.6,602.5z" fill="#0808f4"/><path d="M277.4,623.2L283.9,614.2" stroke="#0808f4" stroke-width="2.3"/><path d="M287.4,609.2L285.3,616.4L281.3,613.6z" fill="#0808f4"/><path d="M277.4,633.9L283.9,624.8" stroke="#0808f4" stroke-width="2.3"/><path d="M287.4,619.9L285.3,627.0L281.3,624.2z" fill="#0808f4"/><path d="M277.4,644.5L283.9,635.4" stroke="#0808f4" stroke-width="2.3"/><path d="M287.4,630.5L285.3,637.7L281.3,634.8z" fill="#0808f4"/><path d="M277.4,655.1L283.1,648.1" stroke="#0808f4" stroke-width="2.3"/><path d="M286.4,644.1L284.2,650.3L280.8,647.4z" fill="#0808f4"/><path d="M277.4,665.7L283.9,657.3" stroke="#0808f4" stroke-width="2.3"/><path d="M287.4,652.7L285.1,659.6L281.3,656.7z" fill="#0808f4"/><path d="M277.4,676.3L282.5,669.4" stroke="#0808f4" stroke-width="2.3"/><path d="M285.4,665.3L283.7,671.5L280.1,668.9z" fill="#0808f4"/><path d="M277.4,687.0L281.2,680.1" stroke="#0808f4" stroke-width="2.3"/><path d="M283.4,676.0L282.6,682.0L278.8,679.9z" fill="#0808f4"/><path d="M277.4,697.6L278.9,692.1" stroke="#0808f4" stroke-width="2.3"/><path d="M279.9,688.6L280.5,693.6L276.8,692.6z" fill="#0808f4"/><path d="M277.4,708.2L275.2,714.4" stroke="#0808f4" stroke-width="2.3"/><path d="M273.9,718.2L273.7,712.7L277.5,714.1z" fill="#0808f4"/><path d="M277.4,718.8L274.3,724.3" stroke="#0808f4" stroke-width="2.3"/><path d="M272.4,727.8L273.1,722.5L276.6,724.4z" fill="#0808f4"/><path d="M277.4,729.4L270.7,735.5" stroke="#0808f4" stroke-width="2.3"/><path d="M266.9,738.9L269.9,733.1L273.0,736.5z" fill="#0808f4"/><path d="M288.5,538.3L282.7,537.8" stroke="#0808f4" stroke-width="1.9"/><path d="M288.0,548.9L283.0,549.2" stroke="#0808f4" stroke-width="1.95"/><path d="M279.5,549.4L283.9,547.3L284.1,551.0z" fill="#0808f4"/><path d="M288.5,559.4L283.2,560.6" stroke="#0808f4" stroke-width="1.9"/><path d="M288.5,570.3L285.4,569.1" stroke="#0808f4" stroke-width="1.9"/><circle cx="288.0" cy="580.8" r="1.05" fill="#0808f4"/><circle cx="288.0" cy="591.4" r="1.05" fill="#0808f4"/><path d="M287.5,602.2L291.2,600.9" stroke="#0808f4" stroke-width="1.9"/><path d="M287.5,612.6L292.3,612.6" stroke="#0808f4" stroke-width="1.9"/><path d="M287.5,623.2L294.3,623.8" stroke="#0808f4" stroke-width="1.9"/><path d="M288.0,633.9L292.7,633.0" stroke="#0808f4" stroke-width="1.95"/><path d="M296.0,632.4L292.1,635.0L291.4,631.3z" fill="#0808f4"/><path d="M288.0,644.5L292.7,643.6" stroke="#0808f4" stroke-width="1.95"/><path d="M296.0,643.0L292.1,645.6L291.4,642.0z" fill="#0808f4"/><path d="M288.0,655.1L293.2,651.4" stroke="#0808f4" stroke-width="2.3"/><path d="M296.5,649.1L293.6,653.6L291.3,650.4z" fill="#0808f4"/><path d="M288.0,665.7L293.1,659.4" stroke="#0808f4" stroke-width="2.3"/><path d="M296.0,655.7L294.1,661.6L290.7,658.9z" fill="#0808f4"/><path d="M288.0,676.3L291.7,671.1" stroke="#0808f4" stroke-width="2.3"/><path d="M294.0,667.8L292.8,673.1L289.5,670.8z" fill="#0808f4"/><path d="M287.6,687.2L292.3,684.8" stroke="#0808f4" stroke-width="1.9"/><path d="M288.0,697.6L286.5,703.0" stroke="#0808f4" stroke-width="2.3"/><path d="M285.5,706.6L284.9,701.5L288.6,702.6z" fill="#0808f4"/><path d="M288.0,708.2L285.2,715.1" stroke="#0808f4" stroke-width="2.3"/><path d="M283.5,719.2L283.6,713.3L287.5,714.9z" fill="#0808f4"/><path d="M288.0,718.8L284.5,726.4" stroke="#0808f4" stroke-width="2.3"/><path d="M282.5,730.8L283.0,724.6L287.0,726.4z" fill="#0808f4"/><path d="M288.0,729.4L282.5,738.1" stroke="#0808f4" stroke-width="2.3"/><path d="M279.5,742.9L281.1,736.0L285.1,738.5z" fill="#0808f4"/><path d="M288.0,740.1L276.8,750.0" stroke="#0808f4" stroke-width="2.3"/><path d="M271.0,755.1L275.7,747.2L279.4,751.4z" fill="#0808f4"/><path d="M288.0,750.7L280.4,754.5" stroke="#0808f4" stroke-width="2.3"/><path d="M276.0,756.7L280.3,752.1L282.3,756.0z" fill="#0808f4"/><path d="M298.9,538.7L297.1,536.2" stroke="#0808f4" stroke-width="1.9"/><path d="M298.3,549.3L300.7,546.8" stroke="#0808f4" stroke-width="1.9"/><path d="M298.8,560.0L297.6,556.4" stroke="#0808f4" stroke-width="1.9"/><path d="M298.7,570.6L298.1,567.0" stroke="#0808f4" stroke-width="1.9"/><path d="M299.1,581.0L295.5,579.2" stroke="#0808f4" stroke-width="1.9"/><circle cx="298.6" cy="591.4" r="1.05" fill="#0808f4"/><path d="M298.2,602.2L301.8,600.9" stroke="#0808f4" stroke-width="1.9"/><path d="M298.1,612.6L303.4,613.2" stroke="#0808f4" stroke-width="1.9"/><path d="M298.1,623.2L305.4,624.3" stroke="#0808f4" stroke-width="1.9"/><path d="M298.6,633.9L303.0,634.7" stroke="#0808f4" stroke-width="1.95"/><path d="M306.1,635.4L301.7,636.3L302.4,632.7z" fill="#0808f4"/><path d="M298.6,644.5L303.7,646.0" stroke="#0808f4" stroke-width="1.95"/><path d="M307.1,647.0L302.2,647.5L303.3,643.9z" fill="#0808f4"/><path d="M298.6,655.1L303.7,656.3" stroke="#0808f4" stroke-width="1.95"/><path d="M307.1,657.1L302.3,657.9L303.2,654.2z" fill="#0808f4"/><path d="M298.2,665.4L304.4,669.9" stroke="#0808f4" stroke-width="1.9"/><path d="M298.6,676.3L302.4,678.7" stroke="#0808f4" stroke-width="1.95"/><path d="M305.1,680.3L300.6,679.7L302.5,676.6z" fill="#0808f4"/><path d="M298.6,687.0L301.9,690.2" stroke="#0808f4" stroke-width="1.95"/><path d="M304.1,692.5L299.9,690.8L302.4,688.2z" fill="#0808f4"/><path d="M298.6,697.6L299.8,703.0" stroke="#0808f4" stroke-width="2.3"/><path d="M300.6,706.6L297.7,702.4L301.5,701.6z" fill="#0808f4"/><path d="M298.6,708.2L297.4,716.4" stroke="#0808f4" stroke-width="2.3"/><path d="M296.6,721.2L295.4,715.1L299.7,715.8z" fill="#0808f4"/><path d="M298.6,718.8L296.7,728.4" stroke="#0808f4" stroke-width="2.3"/><path d="M295.6,733.8L294.6,727.0L299.2,727.9z" fill="#0808f4"/><path d="M298.6,729.4L294.5,738.8" stroke="#0808f4" stroke-width="2.3"/><path d="M292.1,743.9L292.7,736.9L297.0,738.8z" fill="#0808f4"/><path d="M298.6,740.1L266.5,758.3" stroke="#0808f4" stroke-width="2.3"/><path d="M258.6,762.8L265.8,755.1L268.9,760.5z" fill="#0808f4"/><path d="M309.7,538.5L304.5,535.6" stroke="#0808f4" stroke-width="1.9"/><path d="M309.7,549.1L305.0,546.8" stroke="#0808f4" stroke-width="1.9"/><path d="M309.7,559.8L304.0,556.4" stroke="#0808f4" stroke-width="1.9"/><path d="M309.7,570.5L304.0,566.0" stroke="#0808f4" stroke-width="1.9"/><path d="M309.6,581.2L306.1,576.5" stroke="#0808f4" stroke-width="1.9"/><path d="M309.4,591.9L308.2,586.6" stroke="#0808f4" stroke-width="1.9"/><path d="M308.9,602.4L310.8,600.4" stroke="#0808f4" stroke-width="1.9"/><path d="M308.8,612.7L314.1,611.6" stroke="#0808f4" stroke-width="1.9"/><path d="M308.8,623.1L315.0,624.8" stroke="#0808f4" stroke-width="1.9"/><path d="M308.8,633.6L316.0,637.5" stroke="#0808f4" stroke-width="1.9"/><path d="M309.3,644.5L314.4,647.5" stroke="#0808f4" stroke-width="2.3"/><path d="M317.8,649.5L312.6,648.7L314.6,645.3z" fill="#0808f4"/><path d="M309.3,655.1L314.9,660.8" stroke="#0808f4" stroke-width="2.3"/><path d="M318.3,664.1L312.7,661.6L315.7,658.5z" fill="#0808f4"/><path d="M309.3,665.7L314.6,672.0" stroke="#0808f4" stroke-width="2.3"/><path d="M317.8,675.7L312.3,672.7L315.6,669.9z" fill="#0808f4"/><path d="M309.3,676.3L313.3,682.9" stroke="#0808f4" stroke-width="2.3"/><path d="M315.8,686.8L311.0,683.2L314.6,681.0z" fill="#0808f4"/><path d="M309.3,687.0L312.1,694.9" stroke="#0808f4" stroke-width="2.3"/><path d="M313.8,699.5L309.7,694.7L313.8,693.2z" fill="#0808f4"/><path d="M309.3,697.6L310.5,704.4" stroke="#0808f4" stroke-width="2.3"/><path d="M311.3,708.6L308.3,703.8L312.3,703.0z" fill="#0808f4"/><path d="M309.3,708.2L308.6,717.1" stroke="#0808f4" stroke-width="2.3"/><path d="M308.3,722.2L306.5,715.9L310.9,716.3z" fill="#0808f4"/><path d="M309.3,718.8L306.0,729.5" stroke="#0808f4" stroke-width="2.3"/><path d="M304.3,735.3L304.0,727.8L308.7,729.3z" fill="#0808f4"/><path d="M320.3,538.5L314.6,536.2" stroke="#0808f4" stroke-width="1.9"/><path d="M319.9,548.9L316.4,546.3" stroke="#0808f4" stroke-width="1.95"/><path d="M313.9,544.4L318.3,545.4L316.1,548.3z" fill="#0808f4"/><path d="M320.2,559.9L314.7,554.3" stroke="#0808f4" stroke-width="1.9"/><path d="M320.2,570.5L315.2,564.9" stroke="#0808f4" stroke-width="1.9"/><path d="M320.1,581.2L316.7,574.5" stroke="#0808f4" stroke-width="1.9"/><path d="M320.1,591.8L316.7,585.1" stroke="#0808f4" stroke-width="1.9"/><path d="M319.9,602.5L319.4,596.2" stroke="#0808f4" stroke-width="1.9"/><path d="M319.5,612.9L323.1,610.5" stroke="#0808f4" stroke-width="1.9"/><path d="M319.4,623.1L324.7,624.8" stroke="#0808f4" stroke-width="1.9"/><path d="M319.9,633.9L323.4,636.8" stroke="#0808f4" stroke-width="1.95"/><path d="M325.9,638.9L321.4,637.6L323.8,634.7z" fill="#0808f4"/><path d="M319.9,644.5L324.8,649.4" stroke="#0808f4" stroke-width="2.3"/><path d="M327.9,652.5L322.7,650.2L325.6,647.3z" fill="#0808f4"/><path d="M319.9,655.1L326.3,662.8" stroke="#0808f4" stroke-width="2.3"/><path d="M329.9,667.1L323.9,663.5L327.5,660.5z" fill="#0808f4"/><path d="M319.9,665.7L325.7,674.4" stroke="#0808f4" stroke-width="2.3"/><path d="M328.9,679.2L323.1,674.9L327.1,672.3z" fill="#0808f4"/><path d="M319.9,676.3L325.0,685.7" stroke="#0808f4" stroke-width="2.3"/><path d="M327.9,690.8L322.5,686.0L326.7,683.7z" fill="#0808f4"/><path d="M319.9,687.0L323.7,695.9" stroke="#0808f4" stroke-width="2.3"/><path d="M325.9,701.0L321.2,695.9L325.5,694.1z" fill="#0808f4"/><path d="M319.9,697.6L322.8,707.2" stroke="#0808f4" stroke-width="2.3"/><path d="M324.4,712.6L320.2,706.9L324.7,705.6z" fill="#0808f4"/><path d="M319.9,708.2L321.5,719.6" stroke="#0808f4" stroke-width="2.3"/><path d="M322.4,725.7L318.9,718.9L323.8,718.2z" fill="#0808f4"/><path d="M319.9,718.8L318.1,740.8" stroke="#0808f4" stroke-width="2.3"/><path d="M317.4,749.8L315.1,739.6L321.3,740.1z" fill="#0808f4"/><path d="M319.9,729.4L320.8,738.0" stroke="#0808f4" stroke-width="2.3"/><path d="M321.4,742.9L318.5,737.2L322.9,736.8z" fill="#0808f4"/><circle cx="330.5" cy="538.3" r="1.05" fill="#0808f4"/><path d="M330.9,549.2L327.3,546.8" stroke="#0808f4" stroke-width="1.9"/><path d="M331.0,559.7L323.7,556.4" stroke="#0808f4" stroke-width="1.9"/><path d="M330.9,570.4L324.2,567.0" stroke="#0808f4" stroke-width="1.9"/><path d="M330.5,580.8L326.7,578.1" stroke="#0808f4" stroke-width="1.95"/><path d="M324.0,576.3L328.6,577.2L326.5,580.2z" fill="#0808f4"/><path d="M330.5,591.4L327.0,588.8" stroke="#0808f4" stroke-width="1.95"/><path d="M324.5,586.9L328.9,587.9L326.7,590.8z" fill="#0808f4"/><path d="M330.5,602.0L327.0,599.1" stroke="#0808f4" stroke-width="1.95"/><path d="M324.5,597.0L328.9,598.3L326.6,601.1z" fill="#0808f4"/><path d="M330.8,613.0L329.4,611.0" stroke="#0808f4" stroke-width="1.9"/><circle cx="330.5" cy="623.2" r="1.05" fill="#0808f4"/><path d="M330.2,633.4L333.7,638.6" stroke="#0808f4" stroke-width="1.9"/><path d="M330.5,644.5L332.9,650.0" stroke="#0808f4" stroke-width="2.3"/><path d="M334.5,653.5L330.7,649.8L334.3,648.2z" fill="#0808f4"/><path d="M330.5,655.1L335.6,662.8" stroke="#0808f4" stroke-width="2.3"/><path d="M338.5,667.1L333.2,663.2L336.9,660.7z" fill="#0808f4"/><path d="M330.5,665.7L335.7,675.1" stroke="#0808f4" stroke-width="2.3"/><path d="M338.5,680.2L333.1,675.4L337.3,673.0z" fill="#0808f4"/><path d="M330.5,676.3L335.7,685.7" stroke="#0808f4" stroke-width="2.3"/><path d="M338.5,690.8L333.1,686.0L337.3,683.7z" fill="#0808f4"/><path d="M330.5,687.0L335.7,697.4" stroke="#0808f4" stroke-width="2.3"/><path d="M338.5,703.0L333.0,697.6L337.5,695.3z" fill="#0808f4"/><path d="M330.5,697.6L333.7,708.6" stroke="#0808f4" stroke-width="2.3"/><path d="M335.5,714.6L331.1,708.4L335.9,707.0z" fill="#0808f4"/><path d="M330.5,708.2L330.8,718.9" stroke="#0808f4" stroke-width="2.3"/><path d="M331.0,724.7L328.4,717.9L333.2,717.8z" fill="#0808f4"/><path d="M330.5,718.8L326.4,743.9" stroke="#0808f4" stroke-width="2.3"/><path d="M325.0,752.8L323.5,742.5L329.7,743.4z" fill="#0808f4"/><path d="M330.5,729.4L329.0,735.6" stroke="#0808f4" stroke-width="2.3"/><path d="M328.0,739.4L327.3,734.1L331.1,735.1z" fill="#0808f4"/></g><path d="M253.0,618.3H269.5M282.4,618.3H299.5M311.9,618.3H329.0M245.0,719.3H263.5M276.8,719.3H292.9M307.1,719.3H323.3M335.6,719.3H344.0M246.8,625.8V641.0M246.8,654.7V671.8M246.8,685.0V701.0M246.8,715.5V721.1M342.2,616.5V634.4M342.2,648.6V664.2M342.2,678.5V694.6M342.2,708.8V721.1" stroke="#000" stroke-width="3.7" fill="none"/></g>
<g id="P2R"><path d="M490.8,535.6V774.6M543.9,535.6V774.6M597.0,535.6V774.6M650.1,535.6V774.6M437.7,548.9H676.0M437.7,602.0H676.0M437.7,655.1H676.0M437.7,708.2H676.0M437.7,761.3H676.0" stroke="#e7e7e7" stroke-width="0.8" fill="none"/><defs><clipPath id="cP2R"><polygon points="607.6,548.9 639.5,548.9 650.1,559.5 650.1,591.4 639.5,602.0 650.1,612.6 650.1,708.2 639.5,708.2 628.9,718.8 607.6,718.8 597.0,708.2 597.0,687.0 607.6,676.3 607.6,665.7 597.0,655.1 597.0,623.2 607.6,612.6 597.0,602.0 597.0,591.4 607.6,580.8"/></clipPath><linearGradient id="cP2Rb" gradientUnits="userSpaceOnUse" x1="0" x2="0" y1="535.6" y2="774.6"><stop offset="0.000" stop-color="#88ff78"/><stop offset="0.244" stop-color="#88ff78"/><stop offset="0.356" stop-color="#68ff98"/><stop offset="0.778" stop-color="#58ffa8"/></linearGradient><radialGradient id="cP2Rr0"><stop offset="0" stop-color="#ffff00" stop-opacity="0.42"/><stop offset="0.45" stop-color="#ffff00" stop-opacity="0.30"/><stop offset="1" stop-color="#ffff00" stop-opacity="0"/></radialGradient><radialGradient id="cP2Rr1"><stop offset="0" stop-color="#00ffff" stop-opacity="0.95"/><stop offset="0.45" stop-color="#00ffff" stop-opacity="0.68"/><stop offset="1" stop-color="#00ffff" stop-opacity="0"/></radialGradient><radialGradient id="cP2Rr2"><stop offset="0" stop-color="#00ffff" stop-opacity="0.5"/><stop offset="0.45" stop-color="#00ffff" stop-opacity="0.36"/><stop offset="1" stop-color="#00ffff" stop-opacity="0"/></radialGradient><radialGradient id="cP2Rr3"><stop offset="0" stop-color="#00b0ff" stop-opacity="0.42"/><stop offset="0.45" stop-color="#00b0ff" stop-opacity="0.30"/><stop offset="1" stop-color="#00b0ff" stop-opacity="0"/></radialGradient><radialGradient id="cP2Rr4"><stop offset="0" stop-color="#e0ff28" stop-opacity="0.85"/><stop offset="0.45" stop-color="#e0ff28" stop-opacity="0.61"/><stop offset="1" stop-color="#e0ff28" stop-opacity="0"/></radialGradient><radialGradient id="cP2Rr5"><stop offset="0" stop-color="#fff400" stop-opacity="0.95"/><stop offset="0.45" stop-color="#fff400" stop-opacity="0.68"/><stop offset="1" stop-color="#fff400" stop-opacity="0"/></radialGradient><radialGradient id="cP2Rr6"><stop offset="0" stop-color="#ffcc00" stop-opacity="0.55"/><stop offset="0.45" stop-color="#ffcc00" stop-opacity="0.40"/><stop offset="1" stop-color="#ffcc00" stop-opacity="0"/></radialGradient></defs><g clip-path="url(#cP2R)"><rect x="570.5" y="535.6" width="106.2" height="239.0" fill="url(#cP2Rb)"/><ellipse cx="626.2" cy="570.1" rx="21.2" ry="29.2" fill="url(#cP2Rr0)"/><ellipse cx="640.8" cy="673.7" rx="24.4" ry="53.1" fill="url(#cP2Rr1)"/><ellipse cx="626.2" cy="671.0" rx="18.6" ry="29.2" fill="url(#cP2Rr2)"/><ellipse cx="642.1" cy="673.7" rx="13.3" ry="23.9" fill="url(#cP2Rr3)"/><ellipse cx="608.9" cy="645.8" rx="20.7" ry="30.5" fill="url(#cP2Rr4)"/><ellipse cx="604.2" cy="634.4" rx="13.3" ry="17.0" fill="url(#cP2Rr5)"/><ellipse cx="600.2" cy="631.2" rx="4.8" ry="6.4" fill="url(#cP2Rr6)"/></g><path d="M437.7,535.6V774.6H676.0" stroke="#a2a2a2" stroke-width="1" fill="none"/><path d="M437.7,774.6v-2.4M490.8,774.6v-2.4M543.9,774.6v-2.4M597.0,774.6v-2.4M650.1,774.6v-2.4M437.7,548.9h2.4M437.7,602.0h2.4M437.7,655.1h2.4M437.7,708.2h2.4M437.7,761.3h2.4" stroke="#a2a2a2" stroke-width="0.9" fill="none"/><g font-size="16.2" fill="#262626"><text x="437.7" y="794.9" text-anchor="middle">400</text><text x="490.8" y="794.9" text-anchor="middle">600</text><text x="543.9" y="794.9" text-anchor="middle">800</text><text x="597.0" y="794.9" text-anchor="middle">1000</text><text x="650.1" y="794.9" text-anchor="middle">1200</text><text x="432.5" y="554.8" text-anchor="end">400</text><text x="432.5" y="607.9" text-anchor="end">200</text><text x="432.5" y="661.0" text-anchor="end">0</text><text x="432.5" y="714.1" text-anchor="end">-200</text><text x="432.5" y="767.2" text-anchor="end">-400</text></g><text x="556.3" y="815.8" font-size="17.5" font-weight="bold" font-style="italic" text-anchor="middle" fill="#222">x (mm)</text><text transform="translate(396.2,655.1) rotate(-90)" font-size="17.5" font-weight="bold" font-style="italic" text-anchor="middle" fill="#222">z (mm)</text><path d="M437.7,648.5L450.8,642.5L463.8,636.8L476.9,631.2L490.0,625.9L503.1,620.8L516.1,615.8L529.2,611.0L542.3,606.5M437.7,650.0L450.8,644.4L463.8,639.0L476.9,633.6L490.0,628.4L503.1,623.3L516.1,618.3L529.2,613.4L542.3,608.7M437.7,652.5L450.7,647.4L463.7,642.4L476.7,637.7L489.7,633.1L502.7,628.8L515.7,624.7L528.7,620.7L541.7,617.0M437.7,654.0L450.8,649.2L463.8,644.5L476.9,639.9L490.0,635.4L503.0,631.1L516.1,626.9L529.1,622.8L542.2,618.8M543.0,588.1L541.7,618.0M545.0,588.6L545.8,618.0M543.0,588.1L579.8,606.5M544.0,587.1L583.0,616.5M546.0,592.1L582.0,619.5M542.3,606.5L562.0,606.5L579.8,606.5M542.3,609.0L562.0,608.0L580.8,610.5M541.7,617.0L558.1,619.0L582.0,619.5M541.7,618.5L558.1,620.0L581.0,620.5M579.8,606.5L582.0,619.5" stroke="#111" stroke-width="0.8" fill="none" stroke-linejoin="round"/><g stroke="#111" stroke-width="0.65" fill="none"><circle cx="450.7" cy="650.0" r="2.5"/><circle cx="454.5" cy="647.0" r="2.5"/><circle cx="459.0" cy="648.8" r="2.5"/><circle cx="543.0" cy="588.1" r="2.5"/><circle cx="548.8" cy="591.8" r="2.5"/><circle cx="558.3" cy="594.8" r="2.5"/><circle cx="547.8" cy="598.5" r="2.5"/><circle cx="554.8" cy="599.7" r="2.5"/><circle cx="542.3" cy="606.5" r="2.5"/><circle cx="546.1" cy="606.5" r="2.5"/><circle cx="541.7" cy="617.0" r="2.5"/><circle cx="545.5" cy="617.0" r="2.5"/><circle cx="558.1" cy="619.0" r="2.5"/><circle cx="562.0" cy="606.5" r="2.5"/><circle cx="579.8" cy="606.5" r="2.5"/><circle cx="580.9" cy="611.3" r="2.5"/><circle cx="582.0" cy="619.5" r="2.5"/><circle cx="578.8" cy="608.5" r="2.5"/></g><g fill="none"><circle cx="586.4" cy="538.3" r="1.05" fill="#0808f4"/><path d="M586.2,549.4L587.4,545.7" stroke="#0808f4" stroke-width="1.9"/><path d="M586.2,560.0L588.0,555.2" stroke="#0808f4" stroke-width="1.9"/><path d="M586.3,570.6L587.4,564.8" stroke="#0808f4" stroke-width="1.9"/><path d="M586.2,581.2L588.0,576.5" stroke="#0808f4" stroke-width="1.9"/><path d="M586.4,665.7L588.8,659.6" stroke="#0808f4" stroke-width="2.3"/><path d="M590.4,655.7L590.4,661.2L586.6,659.7z" fill="#0808f4"/><path d="M586.4,676.3L587.0,671.3" stroke="#0808f4" stroke-width="1.95"/><path d="M587.4,667.8L588.7,672.5L585.0,672.1z" fill="#0808f4"/><path d="M586.4,687.5L586.4,681.7" stroke="#0808f4" stroke-width="1.9"/><path d="M586.3,697.1L586.9,702.9" stroke="#0808f4" stroke-width="1.9"/><path d="M586.2,707.8L589.0,713.5" stroke="#0808f4" stroke-width="1.9"/><path d="M597.4,538.6L593.8,536.2" stroke="#0808f4" stroke-width="1.9"/><path d="M597.2,549.4L595.4,545.2" stroke="#0808f4" stroke-width="1.9"/><path d="M597.2,560.0L595.9,556.4" stroke="#0808f4" stroke-width="1.9"/><path d="M597.0,570.6L597.0,567.0" stroke="#0808f4" stroke-width="1.9"/><path d="M596.8,581.2L598.1,577.6" stroke="#0808f4" stroke-width="1.9"/><path d="M597.3,591.8L593.8,586.6" stroke="#0808f4" stroke-width="1.9"/><path d="M597.0,655.1L600.4,649.6" stroke="#0808f4" stroke-width="2.3"/><path d="M602.5,646.1L601.6,651.5L598.1,649.4z" fill="#0808f4"/><path d="M597.0,665.7L602.3,660.7" stroke="#0808f4" stroke-width="2.3"/><path d="M605.5,657.7L603.0,662.9L600.1,659.9z" fill="#0808f4"/><path d="M596.5,676.5L603.8,673.7" stroke="#0808f4" stroke-width="1.9"/><path d="M596.5,687.1L602.8,684.9" stroke="#0808f4" stroke-width="1.9"/><circle cx="597.0" cy="697.6" r="1.05" fill="#0808f4"/><circle cx="597.0" cy="708.2" r="1.05" fill="#0808f4"/><circle cx="597.0" cy="718.8" r="1.05" fill="#0808f4"/><path d="M608.0,538.6L606.0,536.7" stroke="#0808f4" stroke-width="1.9"/><path d="M608.1,549.0L602.3,547.8" stroke="#0808f4" stroke-width="1.9"/><path d="M608.1,559.7L603.4,557.4" stroke="#0808f4" stroke-width="1.9"/><path d="M607.8,570.6L606.0,565.9" stroke="#0808f4" stroke-width="1.9"/><path d="M607.7,581.2L606.5,576.5" stroke="#0808f4" stroke-width="1.9"/><path d="M607.9,591.8L605.5,588.7" stroke="#0808f4" stroke-width="1.9"/><path d="M607.6,602.0L603.4,598.1" stroke="#0808f4" stroke-width="2.3"/><path d="M600.6,595.5L605.4,597.3L602.8,600.2z" fill="#0808f4"/><path d="M607.6,612.6L603.9,606.1" stroke="#0808f4" stroke-width="2.3"/><path d="M601.6,602.1L606.2,605.9L602.5,608.0z" fill="#0808f4"/><path d="M607.6,623.2L606.4,617.8" stroke="#0808f4" stroke-width="2.3"/><path d="M605.6,614.2L608.5,618.4L604.8,619.2z" fill="#0808f4"/><path d="M607.6,665.7L613.3,660.1" stroke="#0808f4" stroke-width="2.3"/><path d="M616.6,656.7L614.1,662.3L611.1,659.2z" fill="#0808f4"/><path d="M607.6,676.3L612.5,672.4" stroke="#0808f4" stroke-width="2.3"/><path d="M615.6,669.8L613.0,674.5L610.5,671.4z" fill="#0808f4"/><path d="M607.2,687.2L613.4,683.3" stroke="#0808f4" stroke-width="1.9"/><path d="M607.2,697.3L609.2,698.6" stroke="#0808f4" stroke-width="1.9"/><circle cx="607.6" cy="708.2" r="1.05" fill="#0808f4"/><path d="M607.8,718.4L605.0,724.1" stroke="#0808f4" stroke-width="1.9"/><path d="M607.6,729.4L603.5,731.8" stroke="#0808f4" stroke-width="1.95"/><path d="M600.6,733.4L603.5,729.7L605.3,732.9z" fill="#0808f4"/><path d="M607.2,739.8L612.4,743.2" stroke="#0808f4" stroke-width="1.9"/><path d="M607.6,750.7L600.8,751.3" stroke="#0808f4" stroke-width="2.3"/><path d="M596.6,751.7L601.6,749.2L602.0,753.2z" fill="#0808f4"/><path d="M618.2,538.8L618.2,536.2" stroke="#0808f4" stroke-width="1.9"/><path d="M618.3,549.4L617.7,543.1" stroke="#0808f4" stroke-width="1.9"/><path d="M618.6,559.9L614.0,555.3" stroke="#0808f4" stroke-width="1.9"/><path d="M618.6,570.5L614.0,565.9" stroke="#0808f4" stroke-width="1.9"/><path d="M618.5,581.2L615.6,575.5" stroke="#0808f4" stroke-width="1.9"/><path d="M618.4,591.9L616.7,585.1" stroke="#0808f4" stroke-width="1.9"/><path d="M618.2,602.0L618.5,596.2" stroke="#0808f4" stroke-width="2.3"/><path d="M618.7,592.5L620.4,597.3L616.5,597.1z" fill="#0808f4"/><path d="M617.8,687.2L624.5,682.8" stroke="#0808f4" stroke-width="1.9"/><path d="M617.8,697.5L622.5,698.7" stroke="#0808f4" stroke-width="1.9"/><circle cx="618.2" cy="708.2" r="1.05" fill="#0808f4"/><path d="M618.1,718.3L619.3,723.1" stroke="#0808f4" stroke-width="1.9"/><path d="M618.3,728.9L617.2,734.7" stroke="#0808f4" stroke-width="1.9"/><path d="M629.3,538.6L626.2,536.2" stroke="#0808f4" stroke-width="1.9"/><path d="M629.2,549.3L624.1,544.2" stroke="#0808f4" stroke-width="1.9"/><path d="M629.2,559.9L624.6,555.3" stroke="#0808f4" stroke-width="1.9"/><path d="M629.2,570.5L624.6,565.9" stroke="#0808f4" stroke-width="1.9"/><path d="M629.2,581.1L624.6,576.5" stroke="#0808f4" stroke-width="1.9"/><path d="M629.0,591.9L627.8,587.7" stroke="#0808f4" stroke-width="1.9"/><path d="M628.7,602.5L631.0,596.2" stroke="#0808f4" stroke-width="1.9"/><path d="M628.7,613.1L630.9,605.8" stroke="#0808f4" stroke-width="1.9"/><path d="M628.9,623.2L630.7,618.1" stroke="#0808f4" stroke-width="2.3"/><path d="M631.9,614.7L632.1,619.7L628.5,618.4z" fill="#0808f4"/><path d="M628.9,676.3L634.8,672.3" stroke="#0808f4" stroke-width="2.3"/><path d="M638.4,669.8L635.1,674.6L632.8,671.1z" fill="#0808f4"/><path d="M628.4,687.1L634.1,684.8" stroke="#0808f4" stroke-width="1.9"/><path d="M628.8,697.1L629.9,702.4" stroke="#0808f4" stroke-width="1.9"/><path d="M628.9,707.7L628.9,715.5" stroke="#0808f4" stroke-width="1.9"/><path d="M628.9,718.8L625.5,724.4" stroke="#0808f4" stroke-width="2.3"/><path d="M623.4,727.8L624.3,722.4L627.7,724.5z" fill="#0808f4"/><path d="M639.9,538.5L634.7,535.6" stroke="#0808f4" stroke-width="1.9"/><path d="M639.5,548.9L636.3,545.7" stroke="#0808f4" stroke-width="1.95"/><path d="M634.0,543.4L638.3,545.1L635.7,547.7z" fill="#0808f4"/><path d="M639.8,559.9L634.3,554.3" stroke="#0808f4" stroke-width="1.9"/><path d="M639.8,570.5L635.3,565.9" stroke="#0808f4" stroke-width="1.9"/><path d="M639.8,581.1L635.3,576.5" stroke="#0808f4" stroke-width="1.9"/><path d="M639.3,591.8L641.6,586.6" stroke="#0808f4" stroke-width="1.9"/><path d="M639.2,602.4L642.7,598.3" stroke="#0808f4" stroke-width="1.9"/><path d="M639.1,613.0L644.2,607.9" stroke="#0808f4" stroke-width="1.9"/><path d="M639.5,623.2L642.7,619.7" stroke="#0808f4" stroke-width="1.95"/><path d="M645.0,617.2L643.4,621.7L640.7,619.2z" fill="#0808f4"/><path d="M639.5,633.9L644.8,628.9" stroke="#0808f4" stroke-width="2.3"/><path d="M648.0,625.9L645.5,631.1L642.6,628.0z" fill="#0808f4"/><path d="M639.5,644.5L646.1,639.4" stroke="#0808f4" stroke-width="2.3"/><path d="M650.0,636.5L646.6,641.8L644.0,638.3z" fill="#0808f4"/><path d="M639.5,655.1L645.4,650.4" stroke="#0808f4" stroke-width="2.3"/><path d="M649.0,647.6L646.0,652.7L643.3,649.4z" fill="#0808f4"/><path d="M639.5,665.7L644.7,661.4" stroke="#0808f4" stroke-width="2.3"/><path d="M648.0,658.7L645.3,663.6L642.7,660.4z" fill="#0808f4"/><path d="M639.5,676.3L643.9,674.9" stroke="#0808f4" stroke-width="1.95"/><path d="M647.0,673.8L643.5,676.9L642.3,673.4z" fill="#0808f4"/><path d="M639.0,686.9L645.3,688.0" stroke="#0808f4" stroke-width="1.9"/><path d="M639.1,697.3L644.2,701.3" stroke="#0808f4" stroke-width="1.9"/><path d="M639.5,708.2L641.2,712.3" stroke="#0808f4" stroke-width="1.95"/><path d="M642.5,715.2L639.2,712.1L642.5,710.6z" fill="#0808f4"/><path d="M639.5,718.8L639.8,726.3" stroke="#0808f4" stroke-width="2.3"/><path d="M640.0,730.8L637.6,725.4L641.9,725.2z" fill="#0808f4"/><path d="M650.3,538.7L649.1,536.2" stroke="#0808f4" stroke-width="1.9"/><path d="M650.5,549.2L644.8,545.7" stroke="#0808f4" stroke-width="1.9"/><path d="M650.5,559.8L644.8,556.4" stroke="#0808f4" stroke-width="1.9"/><path d="M650.5,570.4L645.4,566.5" stroke="#0808f4" stroke-width="1.9"/><path d="M650.5,581.1L645.9,576.5" stroke="#0808f4" stroke-width="1.9"/><path d="M650.5,591.7L645.9,587.7" stroke="#0808f4" stroke-width="1.9"/><path d="M650.4,602.4L648.0,599.4" stroke="#0808f4" stroke-width="1.9"/><path d="M649.7,613.0L651.7,611.0" stroke="#0808f4" stroke-width="1.9"/><path d="M649.6,623.1L652.7,623.8" stroke="#0808f4" stroke-width="1.9"/><path d="M650.1,633.9L654.5,633.6" stroke="#0808f4" stroke-width="1.95"/><path d="M657.6,633.4L653.6,635.4L653.3,631.8z" fill="#0808f4"/><path d="M649.6,644.6L655.9,643.4" stroke="#0808f4" stroke-width="1.9"/><path d="M649.6,655.2L655.9,653.5" stroke="#0808f4" stroke-width="1.9"/><path d="M650.1,665.7L654.5,667.5" stroke="#0808f4" stroke-width="1.95"/><path d="M657.6,668.7L652.9,668.8L654.3,665.4z" fill="#0808f4"/><path d="M650.1,676.3L654.6,678.7" stroke="#0808f4" stroke-width="1.95"/><path d="M657.6,680.3L652.8,679.9L654.6,676.6z" fill="#0808f4"/><path d="M650.1,687.0L652.7,690.8" stroke="#0808f4" stroke-width="1.95"/><path d="M654.6,693.5L650.7,691.0L653.7,688.9z" fill="#0808f4"/><path d="M650.1,697.6L651.0,703.0" stroke="#0808f4" stroke-width="2.3"/><path d="M651.6,706.6L648.9,702.3L652.7,701.7z" fill="#0808f4"/><path d="M650.1,708.2L651.7,716.4" stroke="#0808f4" stroke-width="2.3"/><path d="M652.6,721.2L649.3,715.8L653.6,715.0z" fill="#0808f4"/><path d="M650.1,718.8L649.5,727.4" stroke="#0808f4" stroke-width="2.3"/><path d="M649.1,732.3L647.3,726.2L651.7,726.5z" fill="#0808f4"/><path d="M586.4,591.4L570.5,583.1" stroke="#f41010" stroke-width="2.3"/><path d="M562.6,579.0L572.8,580.8L570.0,586.3z" fill="#f41010"/><path d="M586.4,602.0L582.8,592.3" stroke="#f41010" stroke-width="2.3"/><path d="M580.9,587.0L585.4,592.5L581.0,594.1z" fill="#f41010"/><path d="M586.4,612.6L583.8,602.3" stroke="#f41010" stroke-width="2.3"/><path d="M582.4,596.6L586.4,602.7L581.7,603.8z" fill="#f41010"/><path d="M586.4,623.2L588.9,614.7" stroke="#f41010" stroke-width="2.3"/><path d="M590.4,609.7L590.8,616.3L586.5,615.0z" fill="#f41010"/><path d="M586.4,633.9L589.6,622.5" stroke="#f41010" stroke-width="2.3"/><path d="M591.4,616.4L591.8,624.1L586.9,622.7z" fill="#f41010"/><path d="M586.4,644.5L589.6,635.5" stroke="#f41010" stroke-width="2.3"/><path d="M591.4,630.5L591.4,637.2L587.1,635.7z" fill="#f41010"/><path d="M586.4,655.1L589.6,646.8" stroke="#f41010" stroke-width="2.3"/><path d="M591.4,642.1L591.3,648.6L587.1,647.0z" fill="#f41010"/><path d="M597.0,602.0L590.9,592.9" stroke="#f41010" stroke-width="2.3"/><path d="M587.5,588.0L593.4,592.4L589.4,595.1z" fill="#f41010"/><path d="M597.0,612.6L592.5,602.2" stroke="#f41010" stroke-width="2.3"/><path d="M590.0,596.6L595.1,602.2L590.6,604.2z" fill="#f41010"/><path d="M597.0,623.2L595.1,612.2" stroke="#f41010" stroke-width="2.3"/><path d="M594.0,606.2L597.7,612.8L592.8,613.6z" fill="#f41010"/><path d="M597.0,633.9L599.3,623.2" stroke="#f41010" stroke-width="2.3"/><path d="M600.5,617.4L601.4,624.7L596.7,623.7z" fill="#f41010"/><path d="M597.0,644.5L599.9,635.9" stroke="#f41010" stroke-width="2.3"/><path d="M601.5,631.0L601.7,637.5L597.4,636.1z" fill="#f41010"/><path d="M607.6,633.9L608.6,624.6" stroke="#f41010" stroke-width="2.3"/><path d="M609.1,619.4L610.7,625.8L606.2,625.4z" fill="#f41010"/><path d="M607.6,644.5L613.4,635.4" stroke="#f41010" stroke-width="2.3"/><path d="M616.6,630.5L614.9,637.6L610.9,635.0z" fill="#f41010"/><path d="M607.6,655.1L614.0,647.4" stroke="#f41010" stroke-width="2.3"/><path d="M617.6,643.1L615.2,649.7L611.6,646.7z" fill="#f41010"/><path d="M618.1,613.1L619.8,606.8" stroke="#f41010" stroke-width="1.9"/><path d="M618.2,623.2L619.5,613.6" stroke="#f41010" stroke-width="2.3"/><path d="M620.2,608.2L621.7,614.9L617.1,614.3z" fill="#f41010"/><path d="M618.2,633.9L620.8,624.6" stroke="#f41010" stroke-width="2.3"/><path d="M622.2,619.4L622.8,626.2L618.3,624.9z" fill="#f41010"/><path d="M618.2,644.5L624.7,636.1" stroke="#f41010" stroke-width="2.3"/><path d="M628.2,631.5L626.0,638.3L622.2,635.4z" fill="#f41010"/><path d="M618.2,655.1L624.6,648.1" stroke="#f41010" stroke-width="2.3"/><path d="M628.2,644.1L625.7,650.4L622.3,647.3z" fill="#f41010"/><path d="M618.2,665.7L624.6,658.7" stroke="#f41010" stroke-width="2.3"/><path d="M628.2,654.7L625.7,661.0L622.3,657.9z" fill="#f41010"/><path d="M618.2,676.3L624.6,670.3" stroke="#f41010" stroke-width="2.3"/><path d="M628.2,666.8L625.4,672.6L622.3,669.4z" fill="#f41010"/><path d="M618.2,740.1L611.2,746.8" stroke="#f41010" stroke-width="2.3"/><path d="M607.2,750.6L610.3,744.4L613.5,747.8z" fill="#f41010"/><path d="M628.9,633.9L633.9,626.9" stroke="#f41010" stroke-width="2.3"/><path d="M636.9,622.9L635.1,629.0L631.6,626.4z" fill="#f41010"/><path d="M628.9,644.5L635.7,635.4" stroke="#f41010" stroke-width="2.3"/><path d="M639.4,630.5L637.0,637.7L633.1,634.7z" fill="#f41010"/><path d="M628.9,655.1L634.9,648.1" stroke="#f41010" stroke-width="2.3"/><path d="M638.4,644.1L636.0,650.3L632.5,647.3z" fill="#f41010"/><path d="M628.9,665.7L634.3,658.1" stroke="#f41010" stroke-width="2.3"/><path d="M637.4,653.7L635.6,660.2L631.8,657.5z" fill="#f41010"/><path d="M639.5,729.4L637.9,741.1" stroke="#f41010" stroke-width="2.3"/><path d="M637.0,747.4L635.5,739.8L640.5,740.5z" fill="#f41010"/></g><path d="M574.0,581.6H591.0M604.0,581.6H620.5M633.8,581.6H650.0M569.2,711.1H587.3M601.5,711.1H617.6M630.9,711.1H647.0M661.3,711.1H667.0M571.1,591.7V607.8M571.1,621.1V638.2M571.1,651.7V668.0M571.1,681.3V697.4M571.1,708.8V713.0M665.1,580.3V596.4M665.1,609.7V626.8M665.1,640.0V655.7M665.1,669.0V686.0M665.1,699.3V713.0" stroke="#000" stroke-width="3.7" fill="none"/></g>
<g id="P3L"><path d="M170.8,853.2V1092.2M223.9,853.2V1092.2M277.0,853.2V1092.2M330.1,853.2V1092.2M117.7,866.5H354.0M117.7,919.6H354.0M117.7,972.7H354.0M117.7,1025.8H354.0M117.7,1078.9H354.0" stroke="#e7e7e7" stroke-width="0.8" fill="none"/><defs><clipPath id="cP3L"><polygon points="266.4,853.2 287.6,853.2 298.2,866.5 298.2,877.1 308.9,887.7 319.5,887.7 330.1,898.4 330.1,1057.7 287.6,1057.7 277.0,1047.0 266.4,1047.0 266.4,1004.6 277.0,993.9 277.0,952.8 287.6,952.8 298.2,943.5 287.6,935.5 277.0,930.2 277.0,865.2"/></clipPath><linearGradient id="cP3Lb" gradientUnits="userSpaceOnUse" x1="0" x2="0" y1="853.2" y2="1092.2"><stop offset="0.000" stop-color="#84ff7c"/><stop offset="0.333" stop-color="#84ff7c"/><stop offset="0.400" stop-color="#58ffa8"/><stop offset="0.467" stop-color="#18ffe8"/><stop offset="0.867" stop-color="#10f8f0"/></linearGradient><radialGradient id="cP3Lr0"><stop offset="0" stop-color="#ffff00" stop-opacity="0.5"/><stop offset="0.45" stop-color="#ffff00" stop-opacity="0.36"/><stop offset="1" stop-color="#ffff00" stop-opacity="0"/></radialGradient><radialGradient id="cP3Lr1"><stop offset="0" stop-color="#0078ff" stop-opacity="0.95"/><stop offset="0.45" stop-color="#0078ff" stop-opacity="0.68"/><stop offset="1" stop-color="#0078ff" stop-opacity="0"/></radialGradient><radialGradient id="cP3Lr2"><stop offset="0" stop-color="#0080ff" stop-opacity="0.7"/><stop offset="0.45" stop-color="#0080ff" stop-opacity="0.50"/><stop offset="1" stop-color="#0080ff" stop-opacity="0"/></radialGradient><radialGradient id="cP3Lr3"><stop offset="0" stop-color="#0088ff" stop-opacity="0.8"/><stop offset="0.45" stop-color="#0088ff" stop-opacity="0.58"/><stop offset="1" stop-color="#0088ff" stop-opacity="0"/></radialGradient><radialGradient id="cP3Lr4"><stop offset="0" stop-color="#00c0ff" stop-opacity="0.4"/><stop offset="0.45" stop-color="#00c0ff" stop-opacity="0.29"/><stop offset="1" stop-color="#00c0ff" stop-opacity="0"/></radialGradient><radialGradient id="cP3Lr5"><stop offset="0" stop-color="#78ff88" stop-opacity="1.0"/><stop offset="0.45" stop-color="#78ff88" stop-opacity="0.72"/><stop offset="1" stop-color="#78ff88" stop-opacity="0"/></radialGradient><radialGradient id="cP3Lr6"><stop offset="0" stop-color="#fff800" stop-opacity="1.0"/><stop offset="0.45" stop-color="#fff800" stop-opacity="0.72"/><stop offset="1" stop-color="#fff800" stop-opacity="0"/></radialGradient><radialGradient id="cP3Lr7"><stop offset="0" stop-color="#c0ff40" stop-opacity="0.6"/><stop offset="0.45" stop-color="#c0ff40" stop-opacity="0.43"/><stop offset="1" stop-color="#c0ff40" stop-opacity="0"/></radialGradient></defs><g clip-path="url(#cP3L)"><rect x="250.4" y="853.2" width="106.2" height="238.9" fill="url(#cP3Lb)"/><ellipse cx="311.5" cy="913.0" rx="22.6" ry="33.2" fill="url(#cP3Lr0)"/><ellipse cx="295.1" cy="991.3" rx="26.6" ry="31.3" fill="url(#cP3Lr1)"/><ellipse cx="282.3" cy="1012.5" rx="18.6" ry="21.2" fill="url(#cP3Lr2)"/><ellipse cx="273.0" cy="1029.8" rx="18.1" ry="19.1" fill="url(#cP3Lr3)"/><ellipse cx="299.6" cy="1023.1" rx="11.9" ry="21.2" fill="url(#cP3Lr4)"/><ellipse cx="332.2" cy="983.3" rx="21.2" ry="87.6" fill="url(#cP3Lr5)"/><ellipse cx="324.3" cy="1050.2" rx="9.6" ry="13.8" fill="url(#cP3Lr6)"/><ellipse cx="323.5" cy="1033.8" rx="8.0" ry="15.9" fill="url(#cP3Lr7)"/></g><path d="M117.7,853.2V1092.2H354.0" stroke="#a2a2a2" stroke-width="1" fill="none"/><path d="M117.7,1092.2v-2.4M170.8,1092.2v-2.4M223.9,1092.2v-2.4M277.0,1092.2v-2.4M330.1,1092.2v-2.4M117.7,866.5h2.4M117.7,919.6h2.4M117.7,972.7h2.4M117.7,1025.8h2.4M117.7,1078.9h2.4" stroke="#a2a2a2" stroke-width="0.9" fill="none"/><g font-size="16.2" fill="#262626"><text x="117.7" y="1112.5" text-anchor="middle">400</text><text x="170.8" y="1112.5" text-anchor="middle">600</text><text x="223.9" y="1112.5" text-anchor="middle">800</text><text x="277.0" y="1112.5" text-anchor="middle">1000</text><text x="330.1" y="1112.5" text-anchor="middle">1200</text><text x="112.5" y="872.4" text-anchor="end">400</text><text x="112.5" y="925.5" text-anchor="end">200</text><text x="112.5" y="978.6" text-anchor="end">0</text><text x="112.5" y="1031.7" text-anchor="end">-200</text><text x="112.5" y="1084.8" text-anchor="end">-400</text></g><text x="236.3" y="1133.4" font-size="17.5" font-weight="bold" font-style="italic" text-anchor="middle" fill="#222">x (mm)</text><text transform="translate(76.2,972.7) rotate(-90)" font-size="17.5" font-weight="bold" font-style="italic" text-anchor="middle" fill="#222">z (mm)</text><path d="M118.5,969.6L227.5,964.5M118.5,969.8L227.0,969.0M118.5,970.2L226.0,972.0M118.5,970.6L225.7,974.8M226.0,972.0L239.0,946.5L261.5,992.0L239.0,981.5L226.0,972.0M228.5,969.0L239.8,949.0L260.0,989.5M239.0,946.5L243.5,954.0L249.0,968.0L263.0,988.0M227.0,967.5L245.0,973.0L262.0,986.5M226.0,972.0L244.0,975.0L261.0,990.5M224.5,973.0L240.0,982.5L260.5,994.5" stroke="#111" stroke-width="0.8" fill="none" stroke-linejoin="round"/><g stroke="#111" stroke-width="0.65" fill="none"><circle cx="129.0" cy="968.5" r="2.5"/><circle cx="133.8" cy="967.8" r="2.5"/><circle cx="137.0" cy="969.2" r="2.5"/><circle cx="239.0" cy="946.5" r="2.5"/><circle cx="238.4" cy="950.3" r="2.5"/><circle cx="239.6" cy="955.5" r="2.5"/><circle cx="245.5" cy="960.9" r="2.5"/><circle cx="249.2" cy="967.9" r="2.5"/><circle cx="245.0" cy="974.0" r="2.5"/><circle cx="226.0" cy="972.0" r="2.5"/><circle cx="229.0" cy="968.0" r="2.5"/><circle cx="230.0" cy="972.5" r="2.5"/><circle cx="224.5" cy="973.5" r="2.5"/><circle cx="239.0" cy="981.5" r="2.5"/><circle cx="260.0" cy="989.0" r="2.5"/><circle cx="262.0" cy="992.0" r="2.5"/><circle cx="259.0" cy="995.0" r="2.5"/><circle cx="263.0" cy="986.0" r="2.5"/></g><g fill="none"><path d="M266.6,855.4L264.2,859.6" stroke="#0808f4" stroke-width="1.9"/><circle cx="266.4" cy="866.5" r="1.05" fill="#0808f4"/><path d="M266.8,876.8L263.2,879.2" stroke="#0808f4" stroke-width="1.9"/><circle cx="266.4" cy="887.7" r="1.05" fill="#0808f4"/><circle cx="266.4" cy="898.4" r="1.05" fill="#0808f4"/><path d="M266.3,909.5L266.9,905.8" stroke="#0808f4" stroke-width="1.9"/><path d="M266.5,920.1L265.8,915.9" stroke="#0808f4" stroke-width="1.9"/><path d="M266.4,930.7L265.9,924.4" stroke="#0808f4" stroke-width="1.9"/><path d="M266.5,941.3L265.3,935.0" stroke="#0808f4" stroke-width="1.9"/><path d="M266.1,951.9L270.5,945.2" stroke="#0808f4" stroke-width="1.9"/><path d="M266.4,993.9L272.4,988.3" stroke="#0808f4" stroke-width="2.3"/><path d="M275.9,984.9L273.2,990.5L270.2,987.4z" fill="#0808f4"/><path d="M265.9,1015.4L271.1,1012.5" stroke="#0808f4" stroke-width="1.9"/><path d="M266.0,1026.1L270.6,1022.6" stroke="#0808f4" stroke-width="1.9"/><path d="M266.0,1036.7L270.6,1033.8" stroke="#0808f4" stroke-width="1.9"/><path d="M266.4,1047.0L259.1,1051.5" stroke="#0808f4" stroke-width="2.3"/><path d="M254.9,1054.0L258.8,1049.1L261.1,1052.8z" fill="#0808f4"/><circle cx="277.0" cy="855.9" r="1.05" fill="#0808f4"/><path d="M277.5,866.7L272.7,864.9" stroke="#0808f4" stroke-width="1.9"/><path d="M277.5,877.3L272.7,875.5" stroke="#0808f4" stroke-width="1.9"/><path d="M277.5,887.9L272.7,886.1" stroke="#0808f4" stroke-width="1.9"/><circle cx="277.0" cy="898.4" r="1.05" fill="#0808f4"/><path d="M277.1,909.5L276.5,906.9" stroke="#0808f4" stroke-width="1.9"/><path d="M276.8,920.0L278.6,916.4" stroke="#0808f4" stroke-width="1.9"/><path d="M276.8,930.7L279.1,926.5" stroke="#0808f4" stroke-width="1.9"/><path d="M277.0,941.3L277.0,937.7" stroke="#0808f4" stroke-width="1.9"/><path d="M276.7,951.9L281.2,945.2" stroke="#0808f4" stroke-width="1.9"/><path d="M276.7,962.5L281.7,956.9" stroke="#0808f4" stroke-width="1.9"/><path d="M276.8,1015.6L280.6,1008.4" stroke="#0808f4" stroke-width="1.9"/><path d="M276.5,1026.0L281.8,1023.7" stroke="#0808f4" stroke-width="1.9"/><path d="M277.4,1036.1L273.8,1039.1" stroke="#0808f4" stroke-width="1.9"/><path d="M277.0,1047.0L275.3,1051.1" stroke="#0808f4" stroke-width="1.95"/><path d="M274.0,1054.0L274.0,1049.5L277.3,1050.9z" fill="#0808f4"/><path d="M277.0,1057.7L269.7,1063.1" stroke="#0808f4" stroke-width="2.3"/><path d="M265.5,1066.2L269.1,1060.7L271.8,1064.3z" fill="#0808f4"/><path d="M288.1,856.1L283.4,853.7" stroke="#0808f4" stroke-width="1.9"/><path d="M288.1,866.7L282.3,864.4" stroke="#0808f4" stroke-width="1.9"/><path d="M288.0,877.4L284.4,874.4" stroke="#0808f4" stroke-width="1.9"/><path d="M287.8,888.2L286.0,884.6" stroke="#0808f4" stroke-width="1.9"/><path d="M287.8,898.8L286.0,895.2" stroke="#0808f4" stroke-width="1.9"/><path d="M287.4,909.4L289.2,906.4" stroke="#0808f4" stroke-width="1.9"/><path d="M287.2,919.8L291.4,917.5" stroke="#0808f4" stroke-width="1.9"/><path d="M287.2,930.4L293.4,927.6" stroke="#0808f4" stroke-width="1.9"/><path d="M287.1,941.0L294.9,938.8" stroke="#0808f4" stroke-width="1.9"/><path d="M287.6,951.5L293.1,949.6" stroke="#0808f4" stroke-width="2.3"/><path d="M296.6,948.5L292.7,951.8L291.5,948.1z" fill="#0808f4"/><path d="M287.6,962.1L293.1,960.3" stroke="#0808f4" stroke-width="2.3"/><path d="M296.6,959.1L292.7,962.4L291.5,958.7z" fill="#0808f4"/><path d="M287.6,1004.6L290.9,1000.4" stroke="#0808f4" stroke-width="1.95"/><path d="M293.1,997.6L291.8,1002.3L288.8,1000.0z" fill="#0808f4"/><path d="M287.6,1015.7L288.2,1010.4" stroke="#0808f4" stroke-width="1.9"/><path d="M287.8,1025.3L286.0,1030.1" stroke="#0808f4" stroke-width="1.9"/><path d="M298.2,856.4L298.2,853.8" stroke="#0808f4" stroke-width="1.9"/><path d="M298.7,866.7L292.0,863.9" stroke="#0808f4" stroke-width="1.9"/><path d="M298.7,877.4L293.5,874.5" stroke="#0808f4" stroke-width="1.9"/><path d="M298.6,888.1L295.6,885.1" stroke="#0808f4" stroke-width="1.9"/><path d="M298.5,898.8L296.1,894.6" stroke="#0808f4" stroke-width="1.9"/><path d="M298.1,909.5L298.8,906.4" stroke="#0808f4" stroke-width="1.9"/><path d="M297.8,919.8L302.0,917.5" stroke="#0808f4" stroke-width="1.9"/><path d="M297.8,930.4L303.5,928.6" stroke="#0808f4" stroke-width="1.9"/><path d="M298.2,940.8L302.9,940.5" stroke="#0808f4" stroke-width="1.95"/><path d="M306.2,940.3L302.1,942.5L301.8,938.8z" fill="#0808f4"/><path d="M298.2,951.5L304.3,951.5" stroke="#0808f4" stroke-width="2.3"/><path d="M308.2,951.5L303.3,953.4L303.3,949.5z" fill="#0808f4"/><path d="M298.2,962.1L305.0,961.8" stroke="#0808f4" stroke-width="2.3"/><path d="M309.2,961.6L304.1,963.9L303.9,959.8z" fill="#0808f4"/><path d="M298.2,972.7L304.3,973.3" stroke="#0808f4" stroke-width="2.3"/><path d="M308.2,973.7L303.2,975.2L303.5,971.2z" fill="#0808f4"/><path d="M297.7,983.4L305.5,982.8" stroke="#0808f4" stroke-width="1.9"/><path d="M297.9,993.6L301.4,997.7" stroke="#0808f4" stroke-width="1.9"/><path d="M298.0,1004.1L301.4,1009.8" stroke="#0808f4" stroke-width="1.9"/><path d="M298.2,1015.2L297.9,1019.9" stroke="#0808f4" stroke-width="1.95"/><path d="M297.7,1023.2L296.2,1018.8L299.9,1019.0z" fill="#0808f4"/><path d="M298.2,1025.8L297.9,1033.3" stroke="#0808f4" stroke-width="2.3"/><path d="M297.7,1037.8L295.9,1032.2L300.1,1032.4z" fill="#0808f4"/><circle cx="308.9" cy="855.9" r="1.05" fill="#0808f4"/><path d="M309.4,866.6L303.1,865.4" stroke="#0808f4" stroke-width="1.9"/><path d="M309.3,877.3L306.2,876.1" stroke="#0808f4" stroke-width="1.9"/><circle cx="308.9" cy="887.7" r="1.05" fill="#0808f4"/><path d="M309.2,898.8L306.8,895.7" stroke="#0808f4" stroke-width="1.9"/><path d="M309.0,909.4L307.8,906.4" stroke="#0808f4" stroke-width="1.9"/><path d="M308.5,920.0L311.0,917.5" stroke="#0808f4" stroke-width="1.9"/><path d="M308.4,930.3L314.2,929.2" stroke="#0808f4" stroke-width="1.9"/><path d="M308.4,940.8L316.2,941.4" stroke="#0808f4" stroke-width="1.9"/><path d="M308.9,951.5L314.3,953.0" stroke="#0808f4" stroke-width="2.3"/><path d="M317.9,954.0L312.8,954.6L313.8,950.8z" fill="#0808f4"/><path d="M308.9,962.1L314.7,964.8" stroke="#0808f4" stroke-width="2.3"/><path d="M318.4,966.6L312.9,966.2L314.7,962.6z" fill="#0808f4"/><path d="M308.9,972.7L313.7,976.0" stroke="#0808f4" stroke-width="2.3"/><path d="M316.9,978.2L311.8,977.1L314.0,973.9z" fill="#0808f4"/><path d="M308.9,983.3L312.5,987.9" stroke="#0808f4" stroke-width="2.3"/><path d="M314.9,990.8L310.3,988.3L313.4,985.9z" fill="#0808f4"/><path d="M308.9,993.9L312.0,1000.1" stroke="#0808f4" stroke-width="2.3"/><path d="M313.9,1003.9L309.7,1000.2L313.3,998.3z" fill="#0808f4"/><path d="M308.9,1004.6L311.4,1012.1" stroke="#0808f4" stroke-width="2.3"/><path d="M312.9,1016.6L309.0,1011.8L313.1,1010.5z" fill="#0808f4"/><path d="M308.9,1015.2L310.1,1023.7" stroke="#0808f4" stroke-width="2.3"/><path d="M310.9,1028.7L307.8,1023.1L312.2,1022.4z" fill="#0808f4"/><path d="M308.9,1067.8L308.3,1072.6" stroke="#0808f4" stroke-width="1.9"/><path d="M320.0,855.9L313.2,855.4" stroke="#0808f4" stroke-width="1.9"/><circle cx="319.5" cy="866.5" r="1.05" fill="#0808f4"/><path d="M319.9,876.8L316.3,879.8" stroke="#0808f4" stroke-width="1.9"/><path d="M319.9,887.5L315.2,889.9" stroke="#0808f4" stroke-width="1.9"/><path d="M319.9,898.6L316.9,896.8" stroke="#0808f4" stroke-width="1.9"/><circle cx="319.5" cy="909.0" r="1.05" fill="#0808f4"/><path d="M319.0,919.4L322.7,921.2" stroke="#0808f4" stroke-width="1.9"/><path d="M319.0,930.3L323.8,929.1" stroke="#0808f4" stroke-width="1.9"/><path d="M319.0,940.7L324.8,943.0" stroke="#0808f4" stroke-width="1.9"/><path d="M319.1,951.2L325.2,955.1" stroke="#0808f4" stroke-width="1.9"/><path d="M319.5,962.1L322.7,965.3" stroke="#0808f4" stroke-width="1.95"/><path d="M325.0,967.6L320.7,965.9L323.3,963.3z" fill="#0808f4"/><path d="M319.5,972.7L323.5,977.9" stroke="#0808f4" stroke-width="2.3"/><path d="M326.0,981.2L321.3,978.4L324.5,975.9z" fill="#0808f4"/><path d="M319.5,983.3L322.9,989.5" stroke="#0808f4" stroke-width="2.3"/><path d="M325.0,993.3L320.6,989.7L324.2,987.7z" fill="#0808f4"/><path d="M319.5,993.9L322.3,1001.5" stroke="#0808f4" stroke-width="2.3"/><path d="M324.0,1005.9L319.9,1001.3L324.0,999.8z" fill="#0808f4"/><path d="M319.5,1004.6L321.4,1012.4" stroke="#0808f4" stroke-width="2.3"/><path d="M322.5,1017.1L319.0,1012.0L323.2,1011.0z" fill="#0808f4"/><path d="M319.5,1015.2L320.1,1025.1" stroke="#0808f4" stroke-width="2.3"/><path d="M320.5,1030.7L317.7,1024.3L322.4,1024.0z" fill="#0808f4"/><path d="M319.5,1025.8L318.2,1036.1" stroke="#0808f4" stroke-width="2.3"/><path d="M317.5,1041.8L316.0,1034.8L320.7,1035.4z" fill="#0808f4"/><path d="M319.5,1036.4L317.5,1046.7" stroke="#0808f4" stroke-width="2.3"/><path d="M316.5,1052.4L315.4,1045.3L320.1,1046.2z" fill="#0808f4"/><path d="M319.5,1047.0L316.9,1056.0" stroke="#0808f4" stroke-width="2.3"/><path d="M315.5,1061.0L315.0,1054.4L319.4,1055.6z" fill="#0808f4"/><path d="M319.5,1057.7L317.7,1063.1" stroke="#0808f4" stroke-width="2.3"/><path d="M316.5,1066.7L316.1,1061.5L319.8,1062.8z" fill="#0808f4"/><path d="M319.5,1068.3L320.1,1074.0" stroke="#0808f4" stroke-width="2.3"/><path d="M320.5,1077.8L318.0,1073.2L321.9,1072.8z" fill="#0808f4"/><path d="M319.5,1078.4L319.5,1085.7" stroke="#0808f4" stroke-width="1.9"/><path d="M330.1,855.9L320.5,854.9" stroke="#0808f4" stroke-width="2.3"/><path d="M315.1,854.4L321.7,852.7L321.3,857.3z" fill="#0808f4"/><path d="M330.1,866.5L322.9,865.6" stroke="#0808f4" stroke-width="2.3"/><path d="M318.6,865.0L324.2,863.6L323.7,867.8z" fill="#0808f4"/><path d="M330.1,877.6L330.1,875.0" stroke="#0808f4" stroke-width="1.9"/><path d="M330.2,888.2L329.0,882.9" stroke="#0808f4" stroke-width="1.9"/><path d="M330.3,898.8L329.1,895.7" stroke="#0808f4" stroke-width="1.9"/><path d="M330.3,909.5L329.0,905.8" stroke="#0808f4" stroke-width="1.9"/><path d="M330.3,920.1L329.0,916.4" stroke="#0808f4" stroke-width="1.9"/><circle cx="330.1" cy="930.2" r="1.05" fill="#0808f4"/><circle cx="330.1" cy="940.8" r="1.05" fill="#0808f4"/><path d="M330.0,951.0L331.2,956.3" stroke="#0808f4" stroke-width="1.9"/><path d="M330.0,961.6L331.2,967.9" stroke="#0808f4" stroke-width="1.9"/><path d="M329.9,972.2L332.7,979.5" stroke="#0808f4" stroke-width="1.9"/><path d="M330.1,983.3L331.6,988.4" stroke="#0808f4" stroke-width="1.95"/><path d="M332.6,991.8L329.5,988.0L333.1,986.9z" fill="#0808f4"/><path d="M330.1,993.9L331.6,1000.1" stroke="#0808f4" stroke-width="2.3"/><path d="M332.6,1003.9L329.5,999.6L333.3,998.6z" fill="#0808f4"/><path d="M330.1,1004.6L331.0,1012.4" stroke="#0808f4" stroke-width="2.3"/><path d="M331.6,1017.1L328.8,1011.7L333.1,1011.2z" fill="#0808f4"/><path d="M330.1,1015.2L329.5,1025.1" stroke="#0808f4" stroke-width="2.3"/><path d="M329.1,1030.7L327.2,1024.0L331.9,1024.3z" fill="#0808f4"/><path d="M330.1,1025.8L328.2,1035.4" stroke="#0808f4" stroke-width="2.3"/><path d="M327.1,1040.8L326.1,1034.0L330.7,1034.9z" fill="#0808f4"/><path d="M330.1,1036.4L328.2,1046.0" stroke="#0808f4" stroke-width="2.3"/><path d="M327.1,1051.4L326.1,1044.6L330.7,1045.5z" fill="#0808f4"/><path d="M330.1,1047.0L329.5,1051.7" stroke="#0808f4" stroke-width="1.95"/><path d="M329.1,1055.0L327.8,1050.5L331.5,1051.0z" fill="#0808f4"/><path d="M330.1,1057.7L330.1,1063.8" stroke="#0808f4" stroke-width="2.3"/><path d="M330.1,1067.7L328.1,1062.8L332.1,1062.8z" fill="#0808f4"/><path d="M330.1,1068.3L328.6,1074.1" stroke="#0808f4" stroke-width="2.3"/><path d="M327.6,1077.8L326.9,1072.6L330.7,1073.6z" fill="#0808f4"/><path d="M266.4,962.1L273.3,950.9" stroke="#f41010" stroke-width="2.3"/><path d="M276.9,945.1L275.0,953.2L270.5,950.4z" fill="#f41010"/><path d="M266.4,972.7L275.0,958.1" stroke="#f41010" stroke-width="2.3"/><path d="M279.4,950.7L277.1,960.5L271.9,957.4z" fill="#f41010"/><path d="M266.4,983.3L273.8,975.9" stroke="#f41010" stroke-width="2.3"/><path d="M277.9,971.8L274.8,978.3L271.4,974.9z" fill="#f41010"/><path d="M266.4,1004.6L273.8,998.2" stroke="#f41010" stroke-width="2.3"/><path d="M277.9,994.6L274.5,1000.6L271.5,997.1z" fill="#f41010"/><path d="M277.0,972.7L281.1,964.4" stroke="#f41010" stroke-width="2.3"/><path d="M283.5,959.7L282.7,966.3L278.7,964.3z" fill="#f41010"/><path d="M277.0,983.3L279.9,973.7" stroke="#f41010" stroke-width="2.3"/><path d="M281.5,968.3L281.9,975.3L277.4,974.0z" fill="#f41010"/><path d="M277.0,993.9L283.5,985.2" stroke="#f41010" stroke-width="2.3"/><path d="M287.0,980.4L284.8,987.5L280.9,984.6z" fill="#f41010"/><path d="M277.0,1004.6L283.2,994.8" stroke="#f41010" stroke-width="2.3"/><path d="M286.5,989.6L284.7,997.0L280.5,994.3z" fill="#f41010"/><path d="M277.0,1068.3L267.0,1082.2" stroke="#f41010" stroke-width="2.3"/><path d="M262.0,1089.3L265.1,1079.7L270.1,1083.2z" fill="#f41010"/><path d="M287.6,972.7L289.2,966.6" stroke="#f41010" stroke-width="2.3"/><path d="M290.1,962.7L290.8,968.0L287.0,967.1z" fill="#f41010"/><path d="M287.6,983.3L289.2,974.8" stroke="#f41010" stroke-width="2.3"/><path d="M290.1,969.8L291.2,976.1L286.8,975.3z" fill="#f41010"/><path d="M287.6,993.9L291.5,984.6" stroke="#f41010" stroke-width="2.3"/><path d="M293.6,979.4L293.3,986.4L288.9,984.6z" fill="#f41010"/><path d="M287.6,1036.4L285.6,1055.5" stroke="#f41010" stroke-width="2.3"/><path d="M284.6,1064.4L282.6,1054.1L288.8,1054.8z" fill="#f41010"/><path d="M287.6,1047.0L285.5,1068.1" stroke="#f41010" stroke-width="2.3"/><path d="M284.6,1077.0L282.5,1066.8L288.7,1067.4z" fill="#f41010"/><path d="M287.6,1057.7L285.4,1082.7" stroke="#f41010" stroke-width="2.3"/><path d="M284.6,1091.7L282.4,1081.4L288.6,1082.0z" fill="#f41010"/><path d="M298.2,1036.4L297.2,1055.4" stroke="#f41010" stroke-width="2.3"/><path d="M296.7,1064.4L294.2,1054.3L300.4,1054.6z" fill="#f41010"/><path d="M298.2,1047.0L296.4,1070.1" stroke="#f41010" stroke-width="2.3"/><path d="M295.7,1079.0L293.4,1068.8L299.6,1069.3z" fill="#f41010"/><path d="M298.2,1057.7L296.4,1082.7" stroke="#f41010" stroke-width="2.3"/><path d="M295.7,1091.7L293.4,1081.5L299.6,1081.9z" fill="#f41010"/><path d="M308.9,1025.8L310.2,1038.9" stroke="#f41010" stroke-width="2.3"/><path d="M310.9,1045.8L307.4,1038.2L312.7,1037.6z" fill="#f41010"/><path d="M308.9,1036.4L307.9,1049.5" stroke="#f41010" stroke-width="2.3"/><path d="M307.4,1056.4L305.3,1048.3L310.6,1048.7z" fill="#f41010"/><path d="M308.9,1047.0L306.5,1063.6" stroke="#f41010" stroke-width="2.3"/><path d="M305.4,1072.0L303.7,1062.2L309.6,1063.1z" fill="#f41010"/><path d="M308.9,1057.7L302.2,1082.0" stroke="#f41010" stroke-width="2.3"/><path d="M299.9,1090.7L299.5,1080.2L305.5,1081.8z" fill="#f41010"/></g><path d="M240.5,936.2H256.8M269.2,936.2H286.2M300.5,936.2H316.6M330.8,936.2H340.2M240.5,1057.1H259.7M273.9,1057.1H290.0M303.3,1057.1H319.5M332.7,1057.1H340.2M242.3,934.4V939.0M242.3,952.3V967.5M242.3,981.2V997.3M242.3,1011.5V1027.7M242.3,1041.0V1059.0M338.4,934.4V944.7M338.4,958.0V973.6M338.4,986.9V1003.0M338.4,1016.3V1033.4M338.4,1046.7V1059.0" stroke="#000" stroke-width="3.7" fill="none"/></g>
<g id="P3R"><path d="M490.0,855.6V1094.6M543.1,855.6V1094.6M596.2,855.6V1094.6M649.3,855.6V1094.6M436.9,868.9H676.0M436.9,922.0H676.0M436.9,975.1H676.0M436.9,1028.2H676.0M436.9,1081.3H676.0" stroke="#e7e7e7" stroke-width="0.8" fill="none"/><defs><clipPath id="cP3R"><polygon points="596.2,858.3 617.4,858.3 638.7,879.5 638.7,890.1 649.3,900.8 649.3,911.4 638.7,922.0 638.7,932.6 649.3,943.2 649.3,1049.4 638.7,1060.1 606.8,1060.1 585.6,1038.8 585.6,953.9 596.2,943.2 596.2,922.0 606.8,911.4 596.2,900.8 596.2,879.5 585.6,868.9"/></clipPath><linearGradient id="cP3Rb" gradientUnits="userSpaceOnUse" x1="0" x2="0" y1="855.6" y2="1094.6"><stop offset="0.000" stop-color="#84ff7c"/><stop offset="0.222" stop-color="#84ff7c"/><stop offset="0.367" stop-color="#70ff90"/><stop offset="0.633" stop-color="#60ffa0"/><stop offset="0.867" stop-color="#38ffc8"/></linearGradient><radialGradient id="cP3Rr0"><stop offset="0" stop-color="#ffff00" stop-opacity="0.45"/><stop offset="0.45" stop-color="#ffff00" stop-opacity="0.32"/><stop offset="1" stop-color="#ffff00" stop-opacity="0"/></radialGradient><radialGradient id="cP3Rr1"><stop offset="0" stop-color="#00ffff" stop-opacity="0.92"/><stop offset="0.45" stop-color="#00ffff" stop-opacity="0.66"/><stop offset="1" stop-color="#00ffff" stop-opacity="0"/></radialGradient><radialGradient id="cP3Rr2"><stop offset="0" stop-color="#00ffff" stop-opacity="0.35"/><stop offset="0.45" stop-color="#00ffff" stop-opacity="0.25"/><stop offset="1" stop-color="#00ffff" stop-opacity="0"/></radialGradient><radialGradient id="cP3Rr3"><stop offset="0" stop-color="#00a8ff" stop-opacity="0.5"/><stop offset="0.45" stop-color="#00a8ff" stop-opacity="0.36"/><stop offset="1" stop-color="#00a8ff" stop-opacity="0"/></radialGradient><radialGradient id="cP3Rr4"><stop offset="0" stop-color="#00ffff" stop-opacity="0.75"/><stop offset="0.45" stop-color="#00ffff" stop-opacity="0.54"/><stop offset="1" stop-color="#00ffff" stop-opacity="0"/></radialGradient><radialGradient id="cP3Rr5"><stop offset="0" stop-color="#d8ff28" stop-opacity="0.72"/><stop offset="0.45" stop-color="#d8ff28" stop-opacity="0.52"/><stop offset="1" stop-color="#d8ff28" stop-opacity="0"/></radialGradient></defs><g clip-path="url(#cP3R)"><rect x="569.6" y="855.6" width="106.2" height="239.0" fill="url(#cP3Rb)"/><ellipse cx="636.0" cy="899.4" rx="18.6" ry="26.6" fill="url(#cP3Rr0)"/><ellipse cx="640.0" cy="996.3" rx="21.2" ry="57.1" fill="url(#cP3Rr1)"/><ellipse cx="622.8" cy="985.7" rx="15.9" ry="31.9" fill="url(#cP3Rr2)"/><ellipse cx="640.8" cy="1000.9" rx="12.7" ry="22.6" fill="url(#cP3Rr3)"/><ellipse cx="625.4" cy="1054.8" rx="26.6" ry="19.9" fill="url(#cP3Rr4)"/><ellipse cx="593.5" cy="963.2" rx="18.6" ry="29.2" fill="url(#cP3Rr5)"/></g><path d="M436.9,855.6V1094.6H676.0" stroke="#a2a2a2" stroke-width="1" fill="none"/><path d="M436.9,1094.6v-2.4M490.0,1094.6v-2.4M543.1,1094.6v-2.4M596.2,1094.6v-2.4M649.3,1094.6v-2.4M436.9,868.9h2.4M436.9,922.0h2.4M436.9,975.1h2.4M436.9,1028.2h2.4M436.9,1081.3h2.4" stroke="#a2a2a2" stroke-width="0.9" fill="none"/><g font-size="16.2" fill="#262626"><text x="436.9" y="1114.9" text-anchor="middle">400</text><text x="490.0" y="1114.9" text-anchor="middle">600</text><text x="543.1" y="1114.9" text-anchor="middle">800</text><text x="596.2" y="1114.9" text-anchor="middle">1000</text><text x="649.3" y="1114.9" text-anchor="middle">1200</text><text x="431.7" y="874.8" text-anchor="end">400</text><text x="431.7" y="927.9" text-anchor="end">200</text><text x="431.7" y="981.0" text-anchor="end">0</text><text x="431.7" y="1034.1" text-anchor="end">-200</text><text x="431.7" y="1087.2" text-anchor="end">-400</text></g><text x="555.5" y="1135.8" font-size="17.5" font-weight="bold" font-style="italic" text-anchor="middle" fill="#222">x (mm)</text><text transform="translate(395.4,975.1) rotate(-90)" font-size="17.5" font-weight="bold" font-style="italic" text-anchor="middle" fill="#222">z (mm)</text><path d="M436.9,971.0L450.0,965.5L463.1,960.2L476.2,955.1L489.3,950.1L502.4,945.4L515.5,940.9L528.6,936.6L541.7,932.5M436.9,972.5L450.0,967.4L463.1,962.3L476.2,957.4L489.3,952.6L502.4,948.0L515.5,943.4L528.6,939.0L541.7,934.7M436.9,975.0L449.9,970.4L462.8,965.9L475.8,961.7L488.8,957.7L501.7,953.9L514.7,950.2L527.6,946.8L540.6,943.6M436.9,976.5L449.9,972.2L462.9,968.0L476.0,963.9L489.0,960.0L502.0,956.2L515.0,952.5L528.1,948.9L541.1,945.4M541.7,914.0L540.6,944.6M543.7,914.5L545.2,944.6M541.7,914.0L579.5,934.5M542.7,913.0L581.5,944.0M544.7,918.0L580.5,947.0M541.7,932.5L562.7,931.1L579.5,934.5M541.7,935.0L562.7,932.6L580.5,938.5M540.6,943.6L556.8,943.9L580.5,947.0M540.6,945.1L556.8,944.9L579.5,948.0M579.5,934.5L580.5,947.0" stroke="#111" stroke-width="0.8" fill="none" stroke-linejoin="round"/><g stroke="#111" stroke-width="0.65" fill="none"><circle cx="449.9" cy="972.5" r="2.5"/><circle cx="453.7" cy="969.5" r="2.5"/><circle cx="458.2" cy="971.3" r="2.5"/><circle cx="541.7" cy="914.0" r="2.5"/><circle cx="547.5" cy="917.7" r="2.5"/><circle cx="557.0" cy="920.7" r="2.5"/><circle cx="546.5" cy="924.4" r="2.5"/><circle cx="553.5" cy="925.6" r="2.5"/><circle cx="541.7" cy="932.5" r="2.5"/><circle cx="545.5" cy="932.5" r="2.5"/><circle cx="540.6" cy="943.6" r="2.5"/><circle cx="544.4" cy="943.6" r="2.5"/><circle cx="556.8" cy="943.9" r="2.5"/><circle cx="562.7" cy="931.1" r="2.5"/><circle cx="579.5" cy="934.5" r="2.5"/><circle cx="580.6" cy="939.3" r="2.5"/><circle cx="580.5" cy="947.0" r="2.5"/><circle cx="578.5" cy="936.5" r="2.5"/></g><g fill="none"><circle cx="585.6" cy="858.3" r="1.05" fill="#0808f4"/><path d="M585.6,869.4L585.6,865.8" stroke="#0808f4" stroke-width="1.9"/><path d="M585.7,880.0L584.5,876.4" stroke="#0808f4" stroke-width="1.9"/><path d="M585.7,890.6L584.5,887.0" stroke="#0808f4" stroke-width="1.9"/><path d="M585.4,901.2L586.6,897.0" stroke="#0808f4" stroke-width="1.9"/><path d="M585.6,911.9L585.6,909.3" stroke="#0808f4" stroke-width="1.9"/><path d="M585.6,922.0L585.6,915.9" stroke="#0808f4" stroke-width="2.3"/><path d="M585.6,912.0L587.6,916.9L583.6,916.9z" fill="#0808f4"/><path d="M585.5,933.1L586.1,926.3" stroke="#0808f4" stroke-width="1.9"/><path d="M585.5,943.7L586.4,936.9" stroke="#0808f4" stroke-width="1.9"/><path d="M585.6,953.9L586.5,948.4" stroke="#0808f4" stroke-width="2.3"/><path d="M587.1,944.9L588.2,949.7L584.4,949.1z" fill="#0808f4"/><path d="M585.6,964.5L587.1,958.4" stroke="#0808f4" stroke-width="2.3"/><path d="M588.1,954.5L588.8,959.8L584.9,958.8z" fill="#0808f4"/><path d="M585.6,975.1L587.1,969.3" stroke="#0808f4" stroke-width="2.3"/><path d="M588.1,965.6L588.7,970.8L584.9,969.8z" fill="#0808f4"/><path d="M585.6,985.7L587.7,980.3" stroke="#0808f4" stroke-width="2.3"/><path d="M589.1,976.7L589.2,981.9L585.5,980.5z" fill="#0808f4"/><path d="M585.3,996.8L589.2,989.6" stroke="#0808f4" stroke-width="1.9"/><path d="M585.3,1007.4L589.2,1001.2" stroke="#0808f4" stroke-width="1.9"/><path d="M585.3,1018.0L588.2,1013.3" stroke="#0808f4" stroke-width="1.9"/><path d="M585.4,1028.7L586.6,1025.0" stroke="#0808f4" stroke-width="1.9"/><path d="M585.5,1038.3L586.7,1043.1" stroke="#0808f4" stroke-width="1.9"/><path d="M596.4,858.7L595.4,856.2" stroke="#0808f4" stroke-width="1.9"/><path d="M596.6,869.3L593.5,866.2" stroke="#0808f4" stroke-width="1.9"/><path d="M596.5,879.9L594.1,876.9" stroke="#0808f4" stroke-width="1.9"/><path d="M596.6,890.5L593.5,887.5" stroke="#0808f4" stroke-width="1.9"/><path d="M596.4,901.2L595.1,897.6" stroke="#0808f4" stroke-width="1.9"/><path d="M596.2,932.6L588.3,930.7" stroke="#0808f4" stroke-width="2.3"/><path d="M583.7,929.6L589.8,928.9L588.8,933.1z" fill="#0808f4"/><path d="M596.2,943.2L584.3,928.3" stroke="#0808f4" stroke-width="2.3"/><path d="M578.7,921.2L587.4,927.1L582.5,931.0z" fill="#0808f4"/><path d="M596.2,953.9L588.0,943.0" stroke="#0808f4" stroke-width="2.3"/><path d="M583.7,937.4L590.7,942.2L586.5,945.4z" fill="#0808f4"/><path d="M596.2,985.7L599.5,980.9" stroke="#0808f4" stroke-width="2.3"/><path d="M601.7,977.7L600.6,982.8L597.4,980.6z" fill="#0808f4"/><path d="M596.2,996.3L600.1,993.1" stroke="#0808f4" stroke-width="1.95"/><path d="M602.7,990.8L600.5,995.2L598.1,992.3z" fill="#0808f4"/><path d="M595.7,1007.1L603.0,1004.9" stroke="#0808f4" stroke-width="1.9"/><path d="M595.7,1017.7L602.0,1016.5" stroke="#0808f4" stroke-width="1.9"/><path d="M595.8,1028.5L600.9,1025.0" stroke="#0808f4" stroke-width="1.9"/><circle cx="596.2" cy="1038.8" r="1.05" fill="#0808f4"/><path d="M596.7,1060.2L591.4,1059.0" stroke="#0808f4" stroke-width="1.9"/><path d="M596.2,1070.7L591.3,1074.0" stroke="#0808f4" stroke-width="2.3"/><path d="M588.2,1076.2L591.1,1071.8L593.3,1075.1z" fill="#0808f4"/><path d="M607.1,858.7L604.7,855.6" stroke="#0808f4" stroke-width="1.9"/><path d="M607.2,869.2L603.1,865.7" stroke="#0808f4" stroke-width="1.9"/><path d="M607.2,879.9L603.6,876.3" stroke="#0808f4" stroke-width="1.9"/><path d="M607.0,890.6L605.8,887.0" stroke="#0808f4" stroke-width="1.9"/><path d="M606.9,901.3L606.3,897.0" stroke="#0808f4" stroke-width="1.9"/><path d="M606.9,911.9L606.3,908.8" stroke="#0808f4" stroke-width="1.9"/><path d="M606.9,922.5L606.3,916.7" stroke="#0808f4" stroke-width="1.9"/><path d="M607.0,933.1L604.7,926.3" stroke="#0808f4" stroke-width="1.9"/><path d="M606.8,943.2L605.3,935.7" stroke="#0808f4" stroke-width="2.3"/><path d="M604.3,931.2L607.5,936.3L603.4,937.1z" fill="#0808f4"/><path d="M606.8,953.9L605.5,943.2" stroke="#0808f4" stroke-width="2.3"/><path d="M604.8,937.4L608.0,943.9L603.3,944.5z" fill="#0808f4"/><path d="M606.8,964.5L607.8,955.6" stroke="#0808f4" stroke-width="2.3"/><path d="M608.3,950.5L609.9,956.8L605.4,956.3z" fill="#0808f4"/><path d="M606.8,975.1L609.4,966.9" stroke="#0808f4" stroke-width="2.3"/><path d="M610.8,962.1L611.2,968.5L606.9,967.2z" fill="#0808f4"/><path d="M606.8,985.7L612.5,979.4" stroke="#0808f4" stroke-width="2.3"/><path d="M615.8,975.7L613.5,981.6L610.2,978.7z" fill="#0808f4"/><path d="M606.8,996.3L613.1,991.6" stroke="#0808f4" stroke-width="2.3"/><path d="M616.8,988.8L613.6,993.9L611.0,990.5z" fill="#0808f4"/><path d="M606.8,1007.0L612.3,1004.5" stroke="#0808f4" stroke-width="2.3"/><path d="M615.8,1003.0L612.2,1006.7L610.6,1003.1z" fill="#0808f4"/><path d="M606.8,1017.6L612.2,1018.2" stroke="#0808f4" stroke-width="2.3"/><path d="M615.8,1018.6L611.0,1020.0L611.4,1016.2z" fill="#0808f4"/><path d="M606.8,1028.2L610.9,1030.2" stroke="#0808f4" stroke-width="1.95"/><path d="M613.8,1031.7L609.2,1031.4L610.8,1028.2z" fill="#0808f4"/><path d="M606.7,1038.3L608.4,1044.1" stroke="#0808f4" stroke-width="1.9"/><path d="M607.3,1059.8L601.1,1063.2" stroke="#0808f4" stroke-width="1.9"/><path d="M606.8,1070.7L600.7,1071.9" stroke="#0808f4" stroke-width="2.3"/><path d="M596.8,1072.7L601.3,1069.8L602.1,1073.7z" fill="#0808f4"/><path d="M617.9,858.5L611.7,855.7" stroke="#0808f4" stroke-width="1.9"/><path d="M617.8,869.3L612.7,864.2" stroke="#0808f4" stroke-width="1.9"/><path d="M617.9,879.8L612.7,876.4" stroke="#0808f4" stroke-width="1.9"/><path d="M617.6,890.6L615.8,886.4" stroke="#0808f4" stroke-width="1.9"/><path d="M617.6,901.2L616.4,897.0" stroke="#0808f4" stroke-width="1.9"/><path d="M617.4,911.9L617.4,908.2" stroke="#0808f4" stroke-width="1.9"/><path d="M617.2,922.4L620.6,916.7" stroke="#0808f4" stroke-width="1.9"/><path d="M617.2,933.1L620.6,926.4" stroke="#0808f4" stroke-width="1.9"/><path d="M617.4,943.2L619.2,938.5" stroke="#0808f4" stroke-width="1.95"/><path d="M620.4,935.2L620.6,940.1L617.1,938.8z" fill="#0808f4"/><path d="M617.4,953.9L619.3,947.0" stroke="#0808f4" stroke-width="2.3"/><path d="M620.4,942.9L621.0,948.5L617.0,947.4z" fill="#0808f4"/><path d="M617.4,964.5L620.6,956.2" stroke="#0808f4" stroke-width="2.3"/><path d="M622.4,951.5L622.3,958.0L618.2,956.4z" fill="#0808f4"/><path d="M617.4,975.1L621.2,967.8" stroke="#0808f4" stroke-width="2.3"/><path d="M623.4,963.6L622.7,969.7L618.8,967.7z" fill="#0808f4"/><path d="M617.4,985.7L624.1,980.0" stroke="#0808f4" stroke-width="2.3"/><path d="M627.9,976.7L624.8,982.4L621.9,979.0z" fill="#0808f4"/><path d="M617.4,996.3L624.0,992.3" stroke="#0808f4" stroke-width="2.3"/><path d="M627.9,989.8L624.3,994.6L622.1,991.0z" fill="#0808f4"/><path d="M617.4,1007.0L624.7,1004.1" stroke="#0808f4" stroke-width="2.3"/><path d="M628.9,1002.5L624.5,1006.5L622.9,1002.5z" fill="#0808f4"/><path d="M617.4,1017.6L622.5,1017.3" stroke="#0808f4" stroke-width="1.95"/><path d="M625.9,1017.1L621.6,1019.2L621.4,1015.5z" fill="#0808f4"/><path d="M617.2,1027.7L619.6,1033.0" stroke="#0808f4" stroke-width="1.9"/><path d="M617.4,1038.8L616.5,1044.2" stroke="#0808f4" stroke-width="2.3"/><path d="M615.9,1047.8L614.8,1042.9L618.6,1043.6z" fill="#0808f4"/><path d="M617.4,1049.4L616.8,1055.9" stroke="#0808f4" stroke-width="2.3"/><path d="M616.4,1059.9L614.9,1054.7L618.9,1055.1z" fill="#0808f4"/><path d="M617.4,1060.1L617.4,1066.2" stroke="#0808f4" stroke-width="2.3"/><path d="M617.4,1070.1L615.5,1065.2L619.4,1065.2z" fill="#0808f4"/><path d="M617.4,1070.7L616.5,1077.5" stroke="#0808f4" stroke-width="2.3"/><path d="M615.9,1081.7L614.6,1076.2L618.7,1076.8z" fill="#0808f4"/><path d="M617.4,1081.3L609.9,1084.1" stroke="#0808f4" stroke-width="2.3"/><path d="M605.4,1085.8L610.1,1081.8L611.6,1085.8z" fill="#0808f4"/><path d="M628.5,858.5L623.8,855.6" stroke="#0808f4" stroke-width="1.9"/><path d="M628.3,869.3L627.0,866.8" stroke="#0808f4" stroke-width="1.9"/><path d="M628.5,879.8L625.4,877.4" stroke="#0808f4" stroke-width="1.9"/><path d="M628.3,890.6L625.9,886.9" stroke="#0808f4" stroke-width="1.9"/><path d="M627.9,901.2L629.1,898.1" stroke="#0808f4" stroke-width="1.9"/><circle cx="628.1" cy="911.4" r="1.05" fill="#0808f4"/><path d="M627.7,922.4L631.3,918.8" stroke="#0808f4" stroke-width="1.9"/><path d="M627.7,933.0L632.8,928.4" stroke="#0808f4" stroke-width="1.9"/><path d="M627.7,943.6L633.8,938.0" stroke="#0808f4" stroke-width="1.9"/><path d="M628.1,953.9L632.0,949.6" stroke="#0808f4" stroke-width="2.3"/><path d="M634.6,946.9L632.7,951.7L629.9,949.0z" fill="#0808f4"/><path d="M628.1,964.5L632.8,958.5" stroke="#0808f4" stroke-width="2.3"/><path d="M635.6,955.0L633.8,960.6L630.5,958.0z" fill="#0808f4"/><path d="M628.1,975.1L633.4,969.1" stroke="#0808f4" stroke-width="2.3"/><path d="M636.6,965.6L634.4,971.3L631.1,968.4z" fill="#0808f4"/><path d="M628.1,985.7L635.4,980.0" stroke="#0808f4" stroke-width="2.3"/><path d="M639.6,976.7L636.0,982.4L633.2,978.8z" fill="#0808f4"/><path d="M628.1,996.3L633.9,992.9" stroke="#0808f4" stroke-width="2.3"/><path d="M637.6,990.8L634.1,995.2L632.0,991.7z" fill="#0808f4"/><path d="M628.1,1007.0L632.4,1005.8" stroke="#0808f4" stroke-width="1.95"/><path d="M635.6,1005.0L631.9,1007.8L631.0,1004.3z" fill="#0808f4"/><path d="M627.7,1017.2L631.3,1021.3" stroke="#0808f4" stroke-width="1.9"/><path d="M628.1,1028.2L628.4,1036.4" stroke="#0808f4" stroke-width="2.3"/><path d="M628.6,1041.2L626.2,1035.5L630.5,1035.3z" fill="#0808f4"/><path d="M628.1,1038.8L627.4,1051.9" stroke="#0808f4" stroke-width="2.3"/><path d="M627.1,1058.8L624.8,1050.8L630.1,1051.1z" fill="#0808f4"/><path d="M628.1,1049.4L626.1,1066.0" stroke="#0808f4" stroke-width="2.3"/><path d="M625.1,1074.4L623.2,1064.7L629.1,1065.4z" fill="#0808f4"/><path d="M628.1,1070.7L625.2,1079.8" stroke="#0808f4" stroke-width="2.3"/><path d="M623.6,1084.9L623.3,1078.1L627.7,1079.5z" fill="#0808f4"/><path d="M628.1,1081.3L623.6,1084.3" stroke="#0808f4" stroke-width="2.3"/><path d="M620.6,1086.3L623.3,1082.2L625.5,1085.3z" fill="#0808f4"/><circle cx="638.7" cy="858.3" r="1.05" fill="#0808f4"/><path d="M638.3,869.3L643.4,864.2" stroke="#0808f4" stroke-width="1.9"/><path d="M638.8,880.0L637.6,874.2" stroke="#0808f4" stroke-width="1.9"/><path d="M638.9,890.6L637.1,887.0" stroke="#0808f4" stroke-width="1.9"/><path d="M638.3,901.1L641.3,898.1" stroke="#0808f4" stroke-width="1.9"/><path d="M638.3,911.6L644.4,907.7" stroke="#0808f4" stroke-width="1.9"/><path d="M638.2,922.2L644.4,918.9" stroke="#0808f4" stroke-width="1.9"/><path d="M638.2,932.9L644.4,929.5" stroke="#0808f4" stroke-width="1.9"/><path d="M638.7,943.2L642.5,940.9" stroke="#0808f4" stroke-width="1.95"/><path d="M645.2,939.2L642.6,943.0L640.7,939.9z" fill="#0808f4"/><path d="M638.7,953.9L643.2,950.5" stroke="#0808f4" stroke-width="2.3"/><path d="M646.2,948.4L643.5,952.7L641.3,949.6z" fill="#0808f4"/><path d="M638.7,964.5L643.9,960.5" stroke="#0808f4" stroke-width="2.3"/><path d="M647.2,958.0L644.4,962.7L641.9,959.5z" fill="#0808f4"/><path d="M638.7,975.1L645.0,970.4" stroke="#0808f4" stroke-width="2.3"/><path d="M648.7,967.6L645.4,972.7L642.9,969.3z" fill="#0808f4"/><path d="M638.7,985.7L644.9,982.0" stroke="#0808f4" stroke-width="2.3"/><path d="M648.7,979.7L645.1,984.3L643.0,980.7z" fill="#0808f4"/><path d="M638.7,996.3L643.1,994.9" stroke="#0808f4" stroke-width="1.95"/><path d="M646.2,993.8L642.7,996.9L641.5,993.4z" fill="#0808f4"/><path d="M638.2,1007.0L643.5,1007.0" stroke="#0808f4" stroke-width="1.9"/><path d="M638.7,1017.6L639.6,1021.9" stroke="#0808f4" stroke-width="1.95"/><path d="M640.2,1025.1L637.6,1021.3L641.1,1020.6z" fill="#0808f4"/><path d="M638.7,1028.2L640.3,1037.1" stroke="#0808f4" stroke-width="2.3"/><path d="M641.2,1042.2L637.9,1036.5L642.3,1035.7z" fill="#0808f4"/><path d="M638.7,1038.8L639.6,1049.5" stroke="#0808f4" stroke-width="2.3"/><path d="M640.2,1055.3L637.2,1048.7L642.0,1048.3z" fill="#0808f4"/><circle cx="649.3" cy="858.3" r="1.05" fill="#0808f4"/><path d="M649.4,869.4L647.7,862.1" stroke="#0808f4" stroke-width="1.9"/><path d="M649.2,880.0L650.3,872.2" stroke="#0808f4" stroke-width="1.9"/><path d="M649.3,890.1L650.2,884.7" stroke="#0808f4" stroke-width="2.3"/><path d="M650.8,881.1L651.9,886.0L648.1,885.4z" fill="#0808f4"/><path d="M649.1,901.2L650.9,896.0" stroke="#0808f4" stroke-width="1.9"/><path d="M648.9,911.7L653.5,908.2" stroke="#0808f4" stroke-width="1.9"/><path d="M648.9,922.3L655.1,918.3" stroke="#0808f4" stroke-width="1.9"/><path d="M649.3,932.6L654.1,930.8" stroke="#0808f4" stroke-width="1.95"/><path d="M657.3,929.6L653.8,932.9L652.5,929.4z" fill="#0808f4"/><path d="M649.3,943.2L654.0,942.1" stroke="#0808f4" stroke-width="1.95"/><path d="M657.3,941.2L653.5,944.1L652.6,940.5z" fill="#0808f4"/><path d="M649.3,953.9L654.0,953.3" stroke="#0808f4" stroke-width="1.95"/><path d="M657.3,952.9L653.2,955.2L652.8,951.6z" fill="#0808f4"/><path d="M648.8,964.6L656.6,962.9" stroke="#0808f4" stroke-width="1.9"/><path d="M649.3,975.1L653.7,976.0" stroke="#0808f4" stroke-width="1.95"/><path d="M656.8,976.6L652.3,977.6L653.0,974.0z" fill="#0808f4"/><path d="M649.3,985.7L654.1,987.5" stroke="#0808f4" stroke-width="1.95"/><path d="M657.3,988.7L652.5,988.9L653.8,985.4z" fill="#0808f4"/><path d="M649.3,996.3L653.4,998.1" stroke="#0808f4" stroke-width="1.95"/><path d="M656.3,999.3L651.7,999.4L653.2,996.0z" fill="#0808f4"/><path d="M649.3,1007.0L653.6,1011.6" stroke="#0808f4" stroke-width="2.3"/><path d="M656.3,1014.5L651.4,1012.2L654.4,1009.5z" fill="#0808f4"/><path d="M649.3,1017.6L650.9,1025.8" stroke="#0808f4" stroke-width="2.3"/><path d="M651.8,1030.6L648.5,1025.2L652.8,1024.4z" fill="#0808f4"/><path d="M649.3,1028.2L651.5,1037.1" stroke="#0808f4" stroke-width="2.3"/><path d="M652.8,1042.2L649.1,1036.7L653.5,1035.6z" fill="#0808f4"/><path d="M596.2,964.5L599.5,952.1" stroke="#f41010" stroke-width="2.3"/><path d="M601.2,945.5L601.7,953.7L596.7,952.4z" fill="#f41010"/><path d="M596.2,975.1L599.1,964.1" stroke="#f41010" stroke-width="2.3"/><path d="M600.7,958.1L601.3,965.7L596.5,964.4z" fill="#f41010"/><path d="M628.1,1060.1L623.5,1080.3" stroke="#f41010" stroke-width="2.3"/><path d="M621.6,1089.1L620.7,1078.6L626.8,1080.0z" fill="#f41010"/><path d="M638.7,1049.4L638.0,1063.2" stroke="#f41010" stroke-width="2.3"/><path d="M637.7,1070.4L635.4,1062.1L640.8,1062.4z" fill="#f41010"/><path d="M638.7,1060.1L634.5,1080.2" stroke="#f41010" stroke-width="2.3"/><path d="M632.7,1089.1L631.7,1078.6L637.7,1079.9z" fill="#f41010"/><path d="M638.7,1070.7L638.7,1077.5" stroke="#f41010" stroke-width="2.3"/><path d="M638.7,1081.7L636.6,1076.5L640.7,1076.5z" fill="#f41010"/><path d="M649.3,1038.8L650.9,1050.9" stroke="#f41010" stroke-width="2.3"/><path d="M651.8,1057.3L648.3,1050.2L653.3,1049.5z" fill="#f41010"/><path d="M649.3,1049.4L648.3,1066.0" stroke="#f41010" stroke-width="2.3"/><path d="M647.8,1074.4L645.4,1064.9L651.3,1065.2z" fill="#f41010"/><path d="M649.3,1060.1L647.9,1082.1" stroke="#f41010" stroke-width="2.3"/><path d="M647.3,1091.1L644.9,1080.9L651.0,1081.3z" fill="#f41010"/></g><path d="M584.4,909.1H600.5M613.8,909.1H630.0M643.3,909.1H660.3M569.3,1048.7H588.2M601.5,1048.7H617.6M630.9,1048.7H647.0M660.3,1048.7H667.0M571.1,909.5V925.5M571.1,939.1V956.2M571.1,969.0V985.0M571.1,999.3V1015.4M571.1,1028.7V1050.5M665.1,917.3V933.4M665.1,946.7V963.8M665.1,976.5V993.6M665.1,1006.9V1023.0M665.1,1037.3V1050.5" stroke="#000" stroke-width="3.7" fill="none"/></g>
<text x="17.2" y="262.0" font-size="53" font-weight="bold" font-style="italic">U</text>
<text x="55.2" y="273.6" font-size="35.5" font-weight="bold" font-style="italic">8</text>
<text x="21.6" y="572.3" font-size="53" font-weight="bold" font-style="italic">U</text>
<text x="60.5" y="585.2" font-size="35.5" font-weight="bold" font-style="italic">10</text>
<text x="20.2" y="887.3" font-size="53" font-weight="bold" font-style="italic">U</text>
<text x="59.2" y="899.8" font-size="35.5" font-weight="bold" font-style="italic">12</text>
<text x="181.5" y="255.5" font-size="27" font-weight="bold">1.0</text>
<path d="M226.5,246.6H249" stroke="#0d6dbd" stroke-width="5.4"/><polygon points="254.5,246.6 248.3,240.3 248.3,252.9" fill="#0d6dbd"/>
<path d="M173.8,424.8V383M173.8,424.8H214" stroke="#000" stroke-width="5.2" fill="none"/>
<polygon points="173.8,370.1 166.4,384.8 181.2,384.8" fill="#000"/><polygon points="227.5,424.8 213,417.4 213,432.2" fill="#000"/>
<circle cx="173.8" cy="424.8" r="5.7" fill="#000"/>
<text x="171.5" y="361.6" font-size="40" font-weight="bold" font-style="italic" text-anchor="middle">w</text>
<text x="165.3" y="456.0" font-size="38" font-weight="bold" font-style="italic" text-anchor="middle">v</text>
<text x="244.8" y="436.3" font-size="40" font-weight="bold" font-style="italic" text-anchor="middle">u</text>
<rect x="8.2" y="197.4" width="669.2" height="306.2" fill="none" stroke="#0d6dbd" stroke-width="3.2"/>
<rect x="8.2" y="514.4" width="669.2" height="306.0" fill="none" stroke="#0aa84f" stroke-width="3.2"/>
<rect x="8.2" y="832.4" width="669.2" height="305.7" fill="none" stroke="#f20000" stroke-width="3.2"/></svg></body></html>
